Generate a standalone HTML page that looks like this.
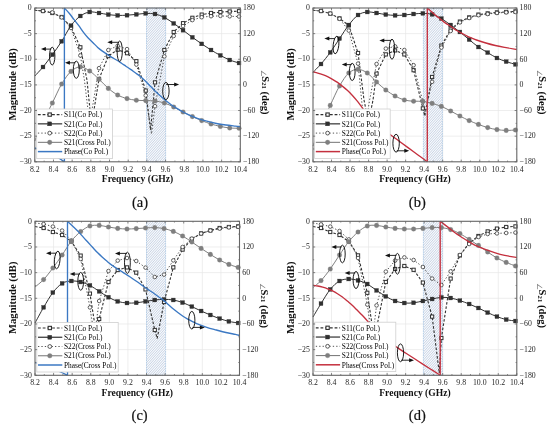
<!DOCTYPE html>
<html lang="en"><head><meta charset="utf-8"><title>S-parameter plots</title><style>
html,body{margin:0;padding:0;background:#fff;}
body{width:550px;height:425px;overflow:hidden;}
svg{display:block;filter:blur(0.4px);}
text{font-family:"Liberation Serif",serif;fill:#222;}
.tk{font-size:7.8px;fill:#262626;}
.lg{font-size:8.2px;fill:#000;}
.ax{font-size:10.65px;font-weight:bold;fill:#111;}
.ang{font-family:"DejaVu Sans",sans-serif;font-size:8px;fill:#808080;}
.ax .sub{font-size:6.8px;}
.cap{font-size:14.5px;fill:#111;stroke:#111;stroke-width:0.2px;}
</style></head><body>
<svg width="550" height="425" viewBox="0 0 550 425">
<rect width="550" height="425" fill="#fff"/>
<g id="plot-a">
<rect x="34.8" y="8" width="205.5" height="153.8" fill="#fff"/>
<path d="M53.48 8V161.8M72.16 8V161.8M90.85 8V161.8M109.53 8V161.8M128.21 8V161.8M146.89 8V161.8M165.57 8V161.8M184.25 8V161.8M202.94 8V161.8M221.62 8V161.8M34.8 33.63H240.3M34.8 59.27H240.3M34.8 84.9H240.3M34.8 110.53H240.3M34.8 136.17H240.3" stroke="#e6e6e6" stroke-width="0.7" fill="none"/>
<clipPath id="bca"><rect x="146.5" y="8" width="19.1" height="153.8"/></clipPath>
<rect x="146.5" y="8" width="19.1" height="153.8" fill="#f8fafd"/>
<path d="M8.08 161.8L146.5 8M10.48 161.8L148.9 8M12.88 161.8L151.3 8M15.28 161.8L153.7 8M17.68 161.8L156.1 8M20.08 161.8L158.5 8M22.48 161.8L160.9 8M24.88 161.8L163.3 8M27.28 161.8L165.7 8M29.68 161.8L168.1 8M32.08 161.8L170.5 8M34.48 161.8L172.9 8M36.88 161.8L175.3 8M39.28 161.8L177.7 8M41.68 161.8L180.1 8M44.08 161.8L182.5 8M46.48 161.8L184.9 8M48.88 161.8L187.3 8M51.28 161.8L189.7 8M53.68 161.8L192.1 8M56.08 161.8L194.5 8M58.48 161.8L196.9 8M60.88 161.8L199.3 8M63.28 161.8L201.7 8M65.68 161.8L204.1 8M68.08 161.8L206.5 8M70.48 161.8L208.9 8M72.88 161.8L211.3 8M75.28 161.8L213.7 8M77.68 161.8L216.1 8M80.08 161.8L218.5 8M82.48 161.8L220.9 8M84.88 161.8L223.3 8M87.28 161.8L225.7 8M89.68 161.8L228.1 8M92.08 161.8L230.5 8M94.48 161.8L232.9 8M96.88 161.8L235.3 8M99.28 161.8L237.7 8M101.68 161.8L240.1 8M104.08 161.8L242.5 8M106.48 161.8L244.9 8M108.88 161.8L247.3 8M111.28 161.8L249.7 8M113.68 161.8L252.1 8M116.08 161.8L254.5 8M118.48 161.8L256.9 8M120.88 161.8L259.3 8M123.28 161.8L261.7 8M125.68 161.8L264.1 8M128.08 161.8L266.5 8M130.48 161.8L268.9 8M132.88 161.8L271.3 8M135.28 161.8L273.7 8M137.68 161.8L276.1 8M140.08 161.8L278.5 8M142.48 161.8L280.9 8M144.88 161.8L283.3 8M147.28 161.8L285.7 8M149.68 161.8L288.1 8M152.08 161.8L290.5 8M154.48 161.8L292.9 8M156.88 161.8L295.3 8M159.28 161.8L297.7 8M161.68 161.8L300.1 8M164.08 161.8L302.5 8" stroke="#a9bbd3" stroke-width="0.6" fill="none" clip-path="url(#bca)"/>
<rect x="146.5" y="8" width="19.1" height="153.8" fill="none" stroke="#a9c6e4" stroke-width="0.8" stroke-dasharray="1.6 0.8"/>
<clipPath id="cpa"><rect x="32.8" y="6" width="209.5" height="157.8"/></clipPath>
<g clip-path="url(#cpa)">
<path d="M34.8 10.3 L43 11 L52.34 13 L61.67 17 L71 27 L80.34 47.3 L87 80 L90 110 L92 138 L94 110 L99.01 79 L108.34 56.1 L117.68 49.7 L127.02 53.2 L136.35 61.2 L145.69 90.6 L150.6 130 L155.02 82.4 L164.36 50 L173.69 32 L183.03 23.2 L192.36 17.8 L201.7 14.6 L211.03 13 L220.37 12.1 L229.7 11.5 L239.04 11.2" fill="none" stroke="#303030" stroke-width="1.1" stroke-dasharray="2.6 1.7"/>
<rect x="41.4" y="9.4" width="3.2" height="3.2" fill="#fff" stroke="#303030" stroke-width="1"/>
<rect x="50.73" y="11.4" width="3.2" height="3.2" fill="#fff" stroke="#303030" stroke-width="1"/>
<rect x="60.07" y="15.4" width="3.2" height="3.2" fill="#fff" stroke="#303030" stroke-width="1"/>
<rect x="69.41" y="25.4" width="3.2" height="3.2" fill="#fff" stroke="#303030" stroke-width="1"/>
<rect x="78.74" y="45.7" width="3.2" height="3.2" fill="#fff" stroke="#303030" stroke-width="1"/>
<rect x="97.41" y="77.4" width="3.2" height="3.2" fill="#fff" stroke="#303030" stroke-width="1"/>
<rect x="106.75" y="54.5" width="3.2" height="3.2" fill="#fff" stroke="#303030" stroke-width="1"/>
<rect x="116.08" y="48.1" width="3.2" height="3.2" fill="#fff" stroke="#303030" stroke-width="1"/>
<rect x="125.42" y="51.6" width="3.2" height="3.2" fill="#fff" stroke="#303030" stroke-width="1"/>
<rect x="134.75" y="59.6" width="3.2" height="3.2" fill="#fff" stroke="#303030" stroke-width="1"/>
<rect x="144.09" y="89" width="3.2" height="3.2" fill="#fff" stroke="#303030" stroke-width="1"/>
<rect x="153.42" y="80.8" width="3.2" height="3.2" fill="#fff" stroke="#303030" stroke-width="1"/>
<rect x="162.76" y="48.4" width="3.2" height="3.2" fill="#fff" stroke="#303030" stroke-width="1"/>
<rect x="172.09" y="30.4" width="3.2" height="3.2" fill="#fff" stroke="#303030" stroke-width="1"/>
<rect x="181.43" y="21.6" width="3.2" height="3.2" fill="#fff" stroke="#303030" stroke-width="1"/>
<rect x="190.76" y="16.2" width="3.2" height="3.2" fill="#fff" stroke="#303030" stroke-width="1"/>
<rect x="200.1" y="13" width="3.2" height="3.2" fill="#fff" stroke="#303030" stroke-width="1"/>
<rect x="209.43" y="11.4" width="3.2" height="3.2" fill="#fff" stroke="#303030" stroke-width="1"/>
<rect x="218.77" y="10.5" width="3.2" height="3.2" fill="#fff" stroke="#303030" stroke-width="1"/>
<rect x="228.1" y="9.9" width="3.2" height="3.2" fill="#fff" stroke="#303030" stroke-width="1"/>
<rect x="237.44" y="9.6" width="3.2" height="3.2" fill="#fff" stroke="#303030" stroke-width="1"/>
<path d="M34.8 10.3 L43 11 L52.34 12.4 L61.67 17.4 L71 28 L80.34 55.5 L84.4 80 L88 110 L90 138 L92 110 L97 80 L99.01 68.2 L108.34 50 L117.68 45.8 L127.02 49.1 L136.35 64.6 L145.69 95.5 L151.5 134 L155.02 106.2 L164.36 56.4 L173.69 36 L183.03 26.1 L192.36 20.1 L201.7 17.2 L211.03 16.2 L220.37 15.9 L229.7 16.3 L239.04 16.5" fill="none" stroke="#4a4a4a" stroke-width="1" stroke-dasharray="1.3 2.0"/>
<circle cx="43" cy="11" r="1.8" fill="#fff" stroke="#444" stroke-width="0.85"/>
<circle cx="52.34" cy="12.4" r="1.8" fill="#fff" stroke="#444" stroke-width="0.85"/>
<circle cx="61.67" cy="17.4" r="1.8" fill="#fff" stroke="#444" stroke-width="0.85"/>
<circle cx="71" cy="28" r="1.8" fill="#fff" stroke="#444" stroke-width="0.85"/>
<circle cx="80.34" cy="55.5" r="1.8" fill="#fff" stroke="#444" stroke-width="0.85"/>
<circle cx="99.01" cy="68.2" r="1.8" fill="#fff" stroke="#444" stroke-width="0.85"/>
<circle cx="108.34" cy="50" r="1.8" fill="#fff" stroke="#444" stroke-width="0.85"/>
<circle cx="117.68" cy="45.8" r="1.8" fill="#fff" stroke="#444" stroke-width="0.85"/>
<circle cx="127.02" cy="49.1" r="1.8" fill="#fff" stroke="#444" stroke-width="0.85"/>
<circle cx="136.35" cy="64.6" r="1.8" fill="#fff" stroke="#444" stroke-width="0.85"/>
<circle cx="145.69" cy="95.5" r="1.8" fill="#fff" stroke="#444" stroke-width="0.85"/>
<circle cx="155.02" cy="106.2" r="1.8" fill="#fff" stroke="#444" stroke-width="0.85"/>
<circle cx="164.36" cy="56.4" r="1.8" fill="#fff" stroke="#444" stroke-width="0.85"/>
<circle cx="173.69" cy="36" r="1.8" fill="#fff" stroke="#444" stroke-width="0.85"/>
<circle cx="183.03" cy="26.1" r="1.8" fill="#fff" stroke="#444" stroke-width="0.85"/>
<circle cx="192.36" cy="20.1" r="1.8" fill="#fff" stroke="#444" stroke-width="0.85"/>
<circle cx="201.7" cy="17.2" r="1.8" fill="#fff" stroke="#444" stroke-width="0.85"/>
<circle cx="211.03" cy="16.2" r="1.8" fill="#fff" stroke="#444" stroke-width="0.85"/>
<circle cx="220.37" cy="15.9" r="1.8" fill="#fff" stroke="#444" stroke-width="0.85"/>
<circle cx="229.7" cy="16.3" r="1.8" fill="#fff" stroke="#444" stroke-width="0.85"/>
<circle cx="239.04" cy="16.5" r="1.8" fill="#fff" stroke="#444" stroke-width="0.85"/>
<path d="M34.8 141 C36.17 137.83 40.08 128.33 43 122 C45.92 115.67 49.22 109.33 52.34 103 C55.45 96.67 58.56 89.27 61.67 84 C64.78 78.73 67.89 74.25 71 71.4 C74.12 68.55 77.23 66.97 80.34 66.9 C83.45 66.83 86.56 68.95 89.68 71 C92.79 73.05 95.9 76.3 99.01 79.2 C102.12 82.1 105.23 85.77 108.34 88.4 C111.46 91.03 114.57 93.3 117.68 95 C120.79 96.7 123.9 97.73 127.02 98.6 C130.13 99.47 133.24 99.87 136.35 100.2 C139.46 100.53 142.57 100.47 145.69 100.6 C148.8 100.73 151.91 100.6 155.02 101 C158.13 101.4 161.24 102 164.36 103 C167.47 104 170.58 105.5 173.69 107 C176.8 108.5 179.91 110.4 183.03 112 C186.14 113.6 189.25 115.17 192.36 116.6 C195.47 118.03 198.58 119.37 201.7 120.6 C204.81 121.83 207.92 123.03 211.03 124 C214.14 124.97 217.25 125.73 220.37 126.4 C223.48 127.07 226.59 127.7 229.7 128 C232.81 128.3 237.48 128.17 239.04 128.2" fill="none" stroke="#7f7f7f" stroke-width="1"/>
<circle cx="43" cy="122" r="2.3" fill="#7f7f7f" stroke="#7f7f7f" stroke-width="0.3"/>
<circle cx="52.34" cy="103" r="2.3" fill="#7f7f7f" stroke="#7f7f7f" stroke-width="0.3"/>
<circle cx="61.67" cy="84" r="2.3" fill="#7f7f7f" stroke="#7f7f7f" stroke-width="0.3"/>
<circle cx="71" cy="71.4" r="2.3" fill="#7f7f7f" stroke="#7f7f7f" stroke-width="0.3"/>
<circle cx="80.34" cy="66.9" r="2.3" fill="#7f7f7f" stroke="#7f7f7f" stroke-width="0.3"/>
<circle cx="89.68" cy="71" r="2.3" fill="#7f7f7f" stroke="#7f7f7f" stroke-width="0.3"/>
<circle cx="99.01" cy="79.2" r="2.3" fill="#7f7f7f" stroke="#7f7f7f" stroke-width="0.3"/>
<circle cx="108.34" cy="88.4" r="2.3" fill="#7f7f7f" stroke="#7f7f7f" stroke-width="0.3"/>
<circle cx="117.68" cy="95" r="2.3" fill="#7f7f7f" stroke="#7f7f7f" stroke-width="0.3"/>
<circle cx="127.02" cy="98.6" r="2.3" fill="#7f7f7f" stroke="#7f7f7f" stroke-width="0.3"/>
<circle cx="136.35" cy="100.2" r="2.3" fill="#7f7f7f" stroke="#7f7f7f" stroke-width="0.3"/>
<circle cx="145.69" cy="100.6" r="2.3" fill="#7f7f7f" stroke="#7f7f7f" stroke-width="0.3"/>
<circle cx="155.02" cy="101" r="2.3" fill="#7f7f7f" stroke="#7f7f7f" stroke-width="0.3"/>
<circle cx="164.36" cy="103" r="2.3" fill="#7f7f7f" stroke="#7f7f7f" stroke-width="0.3"/>
<circle cx="173.69" cy="107" r="2.3" fill="#7f7f7f" stroke="#7f7f7f" stroke-width="0.3"/>
<circle cx="183.03" cy="112" r="2.3" fill="#7f7f7f" stroke="#7f7f7f" stroke-width="0.3"/>
<circle cx="192.36" cy="116.6" r="2.3" fill="#7f7f7f" stroke="#7f7f7f" stroke-width="0.3"/>
<circle cx="201.7" cy="120.6" r="2.3" fill="#7f7f7f" stroke="#7f7f7f" stroke-width="0.3"/>
<circle cx="211.03" cy="124" r="2.3" fill="#7f7f7f" stroke="#7f7f7f" stroke-width="0.3"/>
<circle cx="220.37" cy="126.4" r="2.3" fill="#7f7f7f" stroke="#7f7f7f" stroke-width="0.3"/>
<circle cx="229.7" cy="128" r="2.3" fill="#7f7f7f" stroke="#7f7f7f" stroke-width="0.3"/>
<circle cx="239.04" cy="128.2" r="2.3" fill="#7f7f7f" stroke="#7f7f7f" stroke-width="0.3"/>
<path d="M34.8 76 C36.17 74.5 40.08 70.55 43 67 C45.92 63.45 49.22 58.98 52.34 54.7 C55.45 50.42 58.56 46.15 61.67 41.3 C64.78 36.45 67.89 29.82 71 25.6 C74.12 21.38 77.23 18.27 80.34 16 C83.45 13.73 86.56 12.5 89.68 12 C92.79 11.5 95.9 12.57 99.01 13 C102.12 13.43 105.23 14.2 108.34 14.6 C111.46 15 114.57 15.3 117.68 15.4 C120.79 15.5 123.9 15.37 127.02 15.2 C130.13 15.03 133.24 14.7 136.35 14.4 C139.46 14.1 142.57 13.47 145.69 13.4 C148.8 13.33 151.91 13.33 155.02 14 C158.13 14.67 161.24 15.83 164.36 17.4 C167.47 18.97 170.58 21.27 173.69 23.4 C176.8 25.53 179.91 27.88 183.03 30.2 C186.14 32.52 189.25 35.02 192.36 37.3 C195.47 39.58 198.58 41.78 201.7 43.9 C204.81 46.02 207.92 48.08 211.03 50 C214.14 51.92 217.25 53.73 220.37 55.4 C223.48 57.07 226.59 58.73 229.7 60 C232.81 61.27 237.48 62.5 239.04 63" fill="none" stroke="#303030" stroke-width="1"/>
<rect x="41.05" y="65.05" width="3.9" height="3.9" fill="#303030" stroke="#303030" stroke-width="0.3"/>
<rect x="50.38" y="52.75" width="3.9" height="3.9" fill="#303030" stroke="#303030" stroke-width="0.3"/>
<rect x="59.72" y="39.35" width="3.9" height="3.9" fill="#303030" stroke="#303030" stroke-width="0.3"/>
<rect x="69.05" y="23.65" width="3.9" height="3.9" fill="#303030" stroke="#303030" stroke-width="0.3"/>
<rect x="78.39" y="14.05" width="3.9" height="3.9" fill="#303030" stroke="#303030" stroke-width="0.3"/>
<rect x="87.73" y="10.05" width="3.9" height="3.9" fill="#303030" stroke="#303030" stroke-width="0.3"/>
<rect x="97.06" y="11.05" width="3.9" height="3.9" fill="#303030" stroke="#303030" stroke-width="0.3"/>
<rect x="106.39" y="12.65" width="3.9" height="3.9" fill="#303030" stroke="#303030" stroke-width="0.3"/>
<rect x="115.73" y="13.45" width="3.9" height="3.9" fill="#303030" stroke="#303030" stroke-width="0.3"/>
<rect x="125.07" y="13.25" width="3.9" height="3.9" fill="#303030" stroke="#303030" stroke-width="0.3"/>
<rect x="134.4" y="12.45" width="3.9" height="3.9" fill="#303030" stroke="#303030" stroke-width="0.3"/>
<rect x="143.74" y="11.45" width="3.9" height="3.9" fill="#303030" stroke="#303030" stroke-width="0.3"/>
<rect x="153.07" y="12.05" width="3.9" height="3.9" fill="#303030" stroke="#303030" stroke-width="0.3"/>
<rect x="162.41" y="15.45" width="3.9" height="3.9" fill="#303030" stroke="#303030" stroke-width="0.3"/>
<rect x="171.74" y="21.45" width="3.9" height="3.9" fill="#303030" stroke="#303030" stroke-width="0.3"/>
<rect x="181.08" y="28.25" width="3.9" height="3.9" fill="#303030" stroke="#303030" stroke-width="0.3"/>
<rect x="190.41" y="35.35" width="3.9" height="3.9" fill="#303030" stroke="#303030" stroke-width="0.3"/>
<rect x="199.75" y="41.95" width="3.9" height="3.9" fill="#303030" stroke="#303030" stroke-width="0.3"/>
<rect x="209.08" y="48.05" width="3.9" height="3.9" fill="#303030" stroke="#303030" stroke-width="0.3"/>
<rect x="218.42" y="53.45" width="3.9" height="3.9" fill="#303030" stroke="#303030" stroke-width="0.3"/>
<rect x="227.75" y="58.05" width="3.9" height="3.9" fill="#303030" stroke="#303030" stroke-width="0.3"/>
<rect x="237.09" y="61.05" width="3.9" height="3.9" fill="#303030" stroke="#303030" stroke-width="0.3"/>
<path d="M34.8 148 C36.5 148.58 41.63 150.17 45 151.5 C48.37 152.83 51.77 154.28 55 156 C58.23 157.72 62.83 160.83 64.4 161.8" fill="none" stroke="#3b78c3" stroke-width="1.35" stroke-linejoin="round"/>
<path d="M64.4 161.8 L64.4 8" fill="none" stroke="#3b78c3" stroke-width="1.35" stroke-linejoin="round"/>
<path d="M64.4 8 C65.23 8.92 67.78 11.55 69.4 13.5 C71.02 15.45 72.53 17.67 74.1 19.7 C75.67 21.73 77.23 23.6 78.8 25.7 C80.37 27.8 81.93 30.25 83.5 32.3 C85.07 34.35 86.62 36.27 88.2 38 C89.78 39.73 91.42 41.13 93 42.7 C94.58 44.27 96.13 46 97.7 47.4 C99.27 48.8 100.83 49.95 102.4 51.1 C103.97 52.25 105.53 53.25 107.1 54.3 C108.67 55.35 110.23 56.45 111.8 57.4 C113.37 58.35 114.93 59.07 116.5 60 C118.07 60.93 119.63 61.97 121.2 63 C122.77 64.03 124.33 65.13 125.9 66.2 C127.47 67.27 129.03 68.3 130.6 69.4 C132.17 70.5 133.73 71.67 135.3 72.8 C136.87 73.93 138.42 74.92 140 76.2 C141.58 77.48 143.22 79 144.8 80.5 C146.38 82 147.92 83.58 149.5 85.2 C151.08 86.82 152.7 88.6 154.3 90.2 C155.9 91.8 157.5 93.33 159.1 94.8 C160.7 96.27 162.32 97.67 163.9 99 C165.48 100.33 167.02 101.58 168.6 102.8 C170.18 104.02 171.8 105.23 173.4 106.3 C175 107.37 176.6 108.25 178.2 109.2 C179.8 110.15 181.42 111.15 183 112 C184.58 112.85 186.12 113.57 187.7 114.3 C189.28 115.03 190.9 115.73 192.5 116.4 C194.1 117.07 194.92 117.5 197.3 118.3 C199.68 119.1 203.62 120.33 206.8 121.2 C209.98 122.07 213.22 122.87 216.4 123.5 C219.58 124.13 222.72 124.57 225.9 125 C229.08 125.43 233.1 125.83 235.5 126.1 C237.9 126.37 239.5 126.52 240.3 126.6" fill="none" stroke="#3b78c3" stroke-width="1.35" stroke-linejoin="round"/>
</g>
<ellipse cx="52.2" cy="56.1" rx="2.7" ry="8.9" fill="none" stroke="#111" stroke-width="0.95" transform="rotate(0 52.2 56.1)"/><line x1="51.2" y1="49.1" x2="43.5" y2="49.1" stroke="#111" stroke-width="0.9"/><path d="M41 49.1 L45.9 47.1 L45.9 51.1 Z" fill="#111"/>
<ellipse cx="76.3" cy="69.7" rx="3" ry="8.6" fill="none" stroke="#111" stroke-width="0.95" transform="rotate(0 76.3 69.7)"/><line x1="75.4" y1="62.8" x2="67.5" y2="62.8" stroke="#111" stroke-width="0.9"/><path d="M65 62.8 L69.9 60.8 L69.9 64.8 Z" fill="#111"/>
<ellipse cx="119.7" cy="51.2" rx="2.6" ry="10.2" fill="none" stroke="#111" stroke-width="0.95" transform="rotate(0 119.7 51.2)"/><line x1="119" y1="42.3" x2="109.8" y2="42.3" stroke="#111" stroke-width="0.9"/><path d="M107.3 42.3 L112.2 40.3 L112.2 44.3 Z" fill="#111"/>
<ellipse cx="165.9" cy="91" rx="3.2" ry="8.6" fill="none" stroke="#111" stroke-width="0.95" transform="rotate(0 165.9 91)"/><line x1="166.2" y1="84.5" x2="176.6" y2="84.5" stroke="#111" stroke-width="0.9"/><path d="M179.1 84.5 L174.2 82.5 L174.2 86.5 Z" fill="#111"/>
<rect x="36.7" y="109" width="75.7" height="49.6" fill="#fff" stroke="#cfcfcf" stroke-width="0.8"/>
<line x1="37.9" y1="114.6" x2="62.2" y2="114.6" stroke="#303030" stroke-width="1.2" stroke-dasharray="2.8 1.9"/>
<rect x="48.05" y="112.95" width="3.3" height="3.3" fill="#fff" stroke="#303030" stroke-width="1.1"/>
<line x1="37.9" y1="123.85" x2="62.2" y2="123.85" stroke="#303030" stroke-width="1.2"/>
<rect x="47.75" y="121.9" width="3.9" height="3.9" fill="#303030" stroke="#303030" stroke-width="0.4"/>
<line x1="37.9" y1="133.1" x2="62.2" y2="133.1" stroke="#555" stroke-width="1" stroke-dasharray="1.3 2.1"/>
<circle cx="49.7" cy="133.1" r="1.9" fill="#fff" stroke="#444" stroke-width="0.9"/>
<line x1="37.9" y1="142.35" x2="62.2" y2="142.35" stroke="#7f7f7f" stroke-width="1.1"/>
<circle cx="49.7" cy="142.35" r="2.3" fill="#7f7f7f" stroke="#7f7f7f" stroke-width="0.3"/>
<line x1="37.9" y1="151.6" x2="62.2" y2="151.6" stroke="#3b78c3" stroke-width="1.5"/>
<text transform="translate(63.9 117.3) scale(0.9 1)" text-anchor="start" class="lg">S11(Co Pol.)</text>
<text transform="translate(63.9 126.55) scale(0.9 1)" text-anchor="start" class="lg">S21(Co Pol.)</text>
<text transform="translate(63.9 135.8) scale(0.9 1)" text-anchor="start" class="lg">S22(Co Pol.)</text>
<text transform="translate(63.9 145.05) scale(0.9 1)" text-anchor="start" class="lg">S21(Cross Pol.)</text>
<text transform="translate(63.9 154.3) scale(0.9 1)" text-anchor="start" class="lg">Phase(Co Pol.)</text>
<path d="M34.8 161.8v-2.2M34.8 8v2.2M44.14 161.8v-1.2M44.14 8v1.2M53.48 161.8v-2.2M53.48 8v2.2M62.82 161.8v-1.2M62.82 8v1.2M72.16 161.8v-2.2M72.16 8v2.2M81.5 161.8v-1.2M81.5 8v1.2M90.85 161.8v-2.2M90.85 8v2.2M100.19 161.8v-1.2M100.19 8v1.2M109.53 161.8v-2.2M109.53 8v2.2M118.87 161.8v-1.2M118.87 8v1.2M128.21 161.8v-2.2M128.21 8v2.2M137.55 161.8v-1.2M137.55 8v1.2M146.89 161.8v-2.2M146.89 8v2.2M156.23 161.8v-1.2M156.23 8v1.2M165.57 161.8v-2.2M165.57 8v2.2M174.91 161.8v-1.2M174.91 8v1.2M184.25 161.8v-2.2M184.25 8v2.2M193.6 161.8v-1.2M193.6 8v1.2M202.94 161.8v-2.2M202.94 8v2.2M212.28 161.8v-1.2M212.28 8v1.2M221.62 161.8v-2.2M221.62 8v2.2M230.96 161.8v-1.2M230.96 8v1.2M240.3 161.8v-2.2M240.3 8v2.2M34.8 8h2.2M240.3 8h-2.2M34.8 20.82h1.2M240.3 20.82h-1.2M34.8 33.63h2.2M240.3 33.63h-2.2M34.8 46.45h1.2M240.3 46.45h-1.2M34.8 59.27h2.2M240.3 59.27h-2.2M34.8 72.08h1.2M240.3 72.08h-1.2M34.8 84.9h2.2M240.3 84.9h-2.2M34.8 97.72h1.2M240.3 97.72h-1.2M34.8 110.53h2.2M240.3 110.53h-2.2M34.8 123.35h1.2M240.3 123.35h-1.2M34.8 136.17h2.2M240.3 136.17h-2.2M34.8 148.98h1.2M240.3 148.98h-1.2M34.8 161.8h2.2M240.3 161.8h-2.2" stroke="#666666" stroke-width="0.8" fill="none"/>
<rect x="34.8" y="8" width="205.5" height="153.8" fill="none" stroke="#666666" stroke-width="1.1"/>
<text x="34.8" y="171.9" text-anchor="middle" class="tk">8.2</text>
<text x="53.48" y="171.9" text-anchor="middle" class="tk">8.4</text>
<text x="72.16" y="171.9" text-anchor="middle" class="tk">8.6</text>
<text x="90.85" y="171.9" text-anchor="middle" class="tk">8.8</text>
<text x="109.53" y="171.9" text-anchor="middle" class="tk">9.0</text>
<text x="128.21" y="171.9" text-anchor="middle" class="tk">9.2</text>
<text x="146.89" y="171.9" text-anchor="middle" class="tk">9.4</text>
<text x="165.57" y="171.9" text-anchor="middle" class="tk">9.6</text>
<text x="184.25" y="171.9" text-anchor="middle" class="tk">9.8</text>
<text x="202.94" y="171.9" text-anchor="middle" class="tk">10.0</text>
<text x="221.62" y="171.9" text-anchor="middle" class="tk">10.2</text>
<text x="240.3" y="171.9" text-anchor="middle" class="tk">10.4</text>
<text x="31.7" y="10.2" text-anchor="end" class="tk">0</text>
<text x="31.7" y="35.83" text-anchor="end" class="tk">−5</text>
<text x="31.7" y="61.47" text-anchor="end" class="tk">−10</text>
<text x="31.7" y="87.1" text-anchor="end" class="tk">−15</text>
<text x="31.7" y="112.73" text-anchor="end" class="tk">−20</text>
<text x="31.7" y="138.37" text-anchor="end" class="tk">−25</text>
<text x="31.7" y="164" text-anchor="end" class="tk">−30</text>
<text x="243.1" y="10.3" text-anchor="start" class="tk">180</text>
<text x="243.1" y="35.93" text-anchor="start" class="tk">120</text>
<text x="243.1" y="61.57" text-anchor="start" class="tk">60</text>
<text x="243.1" y="87.2" text-anchor="start" class="tk">0</text>
<text x="243.1" y="112.83" text-anchor="start" class="tk">−60</text>
<text x="243.1" y="138.47" text-anchor="start" class="tk">−120</text>
<text x="243.1" y="164.1" text-anchor="start" class="tk">−180</text>
<text transform="translate(137.55 182.1) scale(0.9 1)" text-anchor="middle" class="ax">Frequency (GHz)</text>
<text transform="translate(16 84.4) rotate(-90) scale(1 0.9)" text-anchor="middle" class="ax">Magnitude (dB)</text>
<text transform="translate(260.6 69.7) rotate(90) scale(1 0.9)" class="ang">∠</text>
<text transform="translate(262 76.2) rotate(90) scale(1 0.9)" class="ax">S<tspan class="sub" dy="0.2">21</tspan><tspan dy="-0.2"> (deg)</tspan></text>
<text x="139.95" y="206.6" text-anchor="middle" class="cap">(a)</text>
</g>
<g id="plot-b">
<rect x="313" y="8" width="203.8" height="153.8" fill="#fff"/>
<path d="M331.53 8V161.8M350.05 8V161.8M368.58 8V161.8M387.11 8V161.8M405.64 8V161.8M424.16 8V161.8M442.69 8V161.8M461.22 8V161.8M479.75 8V161.8M498.27 8V161.8M313 33.63H516.8M313 59.27H516.8M313 84.9H516.8M313 110.53H516.8M313 136.17H516.8" stroke="#e6e6e6" stroke-width="0.7" fill="none"/>
<clipPath id="bcb"><rect x="423.4" y="8" width="19" height="153.8"/></clipPath>
<rect x="423.4" y="8" width="19" height="153.8" fill="#f8fafd"/>
<path d="M284.98 161.8L423.4 8M287.38 161.8L425.8 8M289.78 161.8L428.2 8M292.18 161.8L430.6 8M294.58 161.8L433 8M296.98 161.8L435.4 8M299.38 161.8L437.8 8M301.78 161.8L440.2 8M304.18 161.8L442.6 8M306.58 161.8L445 8M308.98 161.8L447.4 8M311.38 161.8L449.8 8M313.78 161.8L452.2 8M316.18 161.8L454.6 8M318.58 161.8L457 8M320.98 161.8L459.4 8M323.38 161.8L461.8 8M325.78 161.8L464.2 8M328.18 161.8L466.6 8M330.58 161.8L469 8M332.98 161.8L471.4 8M335.38 161.8L473.8 8M337.78 161.8L476.2 8M340.18 161.8L478.6 8M342.58 161.8L481 8M344.98 161.8L483.4 8M347.38 161.8L485.8 8M349.78 161.8L488.2 8M352.18 161.8L490.6 8M354.58 161.8L493 8M356.98 161.8L495.4 8M359.38 161.8L497.8 8M361.78 161.8L500.2 8M364.18 161.8L502.6 8M366.58 161.8L505 8M368.98 161.8L507.4 8M371.38 161.8L509.8 8M373.78 161.8L512.2 8M376.18 161.8L514.6 8M378.58 161.8L517 8M380.98 161.8L519.4 8M383.38 161.8L521.8 8M385.78 161.8L524.2 8M388.18 161.8L526.6 8M390.58 161.8L529 8M392.98 161.8L531.4 8M395.38 161.8L533.8 8M397.78 161.8L536.2 8M400.18 161.8L538.6 8M402.58 161.8L541 8M404.98 161.8L543.4 8M407.38 161.8L545.8 8M409.78 161.8L548.2 8M412.18 161.8L550.6 8M414.58 161.8L553 8M416.98 161.8L555.4 8M419.38 161.8L557.8 8M421.78 161.8L560.2 8M424.18 161.8L562.6 8M426.58 161.8L565 8M428.98 161.8L567.4 8M431.38 161.8L569.8 8M433.78 161.8L572.2 8M436.18 161.8L574.6 8M438.58 161.8L577 8M440.98 161.8L579.4 8" stroke="#a9bbd3" stroke-width="0.6" fill="none" clip-path="url(#bcb)"/>
<rect x="423.4" y="8" width="19" height="153.8" fill="none" stroke="#a9c6e4" stroke-width="0.8" stroke-dasharray="1.6 0.8"/>
<clipPath id="cpb"><rect x="311" y="6" width="207.8" height="157.8"/></clipPath>
<g clip-path="url(#cpb)">
<path d="M313 10.3 L321 11 L330.26 13.6 L339.52 18.4 L348.78 25.4 L358.04 53 L364 100 L366 110 L368.3 138 L371 110 L373 100 L376.56 73.6 L385.82 54.4 L395.08 50.4 L404.34 54.4 L413.6 70.2 L422.86 108.4 L424.8 116 L432.12 77 L441.38 45.6 L450.64 29.4 L459.9 21.6 L469.16 17.4 L478.42 14.6 L487.68 13.4 L496.94 12.4 L506.2 12 L515.46 11.4" fill="none" stroke="#303030" stroke-width="1.1" stroke-dasharray="2.6 1.7"/>
<rect x="319.4" y="9.4" width="3.2" height="3.2" fill="#fff" stroke="#303030" stroke-width="1"/>
<rect x="328.66" y="12" width="3.2" height="3.2" fill="#fff" stroke="#303030" stroke-width="1"/>
<rect x="337.92" y="16.8" width="3.2" height="3.2" fill="#fff" stroke="#303030" stroke-width="1"/>
<rect x="347.18" y="23.8" width="3.2" height="3.2" fill="#fff" stroke="#303030" stroke-width="1"/>
<rect x="356.44" y="51.4" width="3.2" height="3.2" fill="#fff" stroke="#303030" stroke-width="1"/>
<rect x="374.96" y="72" width="3.2" height="3.2" fill="#fff" stroke="#303030" stroke-width="1"/>
<rect x="384.22" y="52.8" width="3.2" height="3.2" fill="#fff" stroke="#303030" stroke-width="1"/>
<rect x="393.48" y="48.8" width="3.2" height="3.2" fill="#fff" stroke="#303030" stroke-width="1"/>
<rect x="402.74" y="52.8" width="3.2" height="3.2" fill="#fff" stroke="#303030" stroke-width="1"/>
<rect x="412" y="68.6" width="3.2" height="3.2" fill="#fff" stroke="#303030" stroke-width="1"/>
<rect x="421.26" y="106.8" width="3.2" height="3.2" fill="#fff" stroke="#303030" stroke-width="1"/>
<rect x="430.52" y="75.4" width="3.2" height="3.2" fill="#fff" stroke="#303030" stroke-width="1"/>
<rect x="439.78" y="44" width="3.2" height="3.2" fill="#fff" stroke="#303030" stroke-width="1"/>
<rect x="449.04" y="27.8" width="3.2" height="3.2" fill="#fff" stroke="#303030" stroke-width="1"/>
<rect x="458.3" y="20" width="3.2" height="3.2" fill="#fff" stroke="#303030" stroke-width="1"/>
<rect x="467.56" y="15.8" width="3.2" height="3.2" fill="#fff" stroke="#303030" stroke-width="1"/>
<rect x="476.82" y="13" width="3.2" height="3.2" fill="#fff" stroke="#303030" stroke-width="1"/>
<rect x="486.08" y="11.8" width="3.2" height="3.2" fill="#fff" stroke="#303030" stroke-width="1"/>
<rect x="495.34" y="10.8" width="3.2" height="3.2" fill="#fff" stroke="#303030" stroke-width="1"/>
<rect x="504.6" y="10.4" width="3.2" height="3.2" fill="#fff" stroke="#303030" stroke-width="1"/>
<rect x="513.86" y="9.8" width="3.2" height="3.2" fill="#fff" stroke="#303030" stroke-width="1"/>
<path d="M313 10.3 L321 11 L330.26 13.6 L339.52 18.8 L348.78 30.6 L358.04 63.6 L361.6 100 L362.6 110 L365.3 140 L368 110 L369.6 100 L376.56 64 L385.82 48.6 L395.08 46.4 L404.34 50 L413.6 65.2 L422.86 101.5 L425 112 L432.12 81.8 L441.38 47.6 L450.64 31 L459.9 22.4 L469.16 18 L478.42 15.2 L487.68 14 L496.94 13 L506.2 12.4 L515.46 12" fill="none" stroke="#4a4a4a" stroke-width="1" stroke-dasharray="1.3 2.0"/>
<circle cx="321" cy="11" r="1.8" fill="#fff" stroke="#444" stroke-width="0.85"/>
<circle cx="330.26" cy="13.6" r="1.8" fill="#fff" stroke="#444" stroke-width="0.85"/>
<circle cx="339.52" cy="18.8" r="1.8" fill="#fff" stroke="#444" stroke-width="0.85"/>
<circle cx="348.78" cy="30.6" r="1.8" fill="#fff" stroke="#444" stroke-width="0.85"/>
<circle cx="358.04" cy="63.6" r="1.8" fill="#fff" stroke="#444" stroke-width="0.85"/>
<circle cx="376.56" cy="64" r="1.8" fill="#fff" stroke="#444" stroke-width="0.85"/>
<circle cx="385.82" cy="48.6" r="1.8" fill="#fff" stroke="#444" stroke-width="0.85"/>
<circle cx="395.08" cy="46.4" r="1.8" fill="#fff" stroke="#444" stroke-width="0.85"/>
<circle cx="404.34" cy="50" r="1.8" fill="#fff" stroke="#444" stroke-width="0.85"/>
<circle cx="413.6" cy="65.2" r="1.8" fill="#fff" stroke="#444" stroke-width="0.85"/>
<circle cx="422.86" cy="101.5" r="1.8" fill="#fff" stroke="#444" stroke-width="0.85"/>
<circle cx="432.12" cy="81.8" r="1.8" fill="#fff" stroke="#444" stroke-width="0.85"/>
<circle cx="441.38" cy="47.6" r="1.8" fill="#fff" stroke="#444" stroke-width="0.85"/>
<circle cx="450.64" cy="31" r="1.8" fill="#fff" stroke="#444" stroke-width="0.85"/>
<circle cx="459.9" cy="22.4" r="1.8" fill="#fff" stroke="#444" stroke-width="0.85"/>
<circle cx="469.16" cy="18" r="1.8" fill="#fff" stroke="#444" stroke-width="0.85"/>
<circle cx="478.42" cy="15.2" r="1.8" fill="#fff" stroke="#444" stroke-width="0.85"/>
<circle cx="487.68" cy="14" r="1.8" fill="#fff" stroke="#444" stroke-width="0.85"/>
<circle cx="496.94" cy="13" r="1.8" fill="#fff" stroke="#444" stroke-width="0.85"/>
<circle cx="506.2" cy="12.4" r="1.8" fill="#fff" stroke="#444" stroke-width="0.85"/>
<circle cx="515.46" cy="12" r="1.8" fill="#fff" stroke="#444" stroke-width="0.85"/>
<path d="M313 146 C314.33 142.67 318.12 132.77 321 126 C323.88 119.23 327.17 112.07 330.26 105.4 C333.35 98.73 336.43 91.4 339.52 86 C342.61 80.6 345.69 75.77 348.78 73 C351.87 70.23 354.95 69.4 358.04 69.4 C361.13 69.4 364.21 70.9 367.3 73 C370.39 75.1 373.47 79.17 376.56 82 C379.65 84.83 382.73 87.67 385.82 90 C388.91 92.33 391.99 94.33 395.08 96 C398.17 97.67 401.25 99.13 404.34 100 C407.43 100.87 410.51 100.97 413.6 101.2 C416.69 101.43 419.77 101.03 422.86 101.4 C425.95 101.77 429.03 102.57 432.12 103.4 C435.21 104.23 438.29 105.13 441.38 106.4 C444.47 107.67 447.55 109.4 450.64 111 C453.73 112.6 456.81 114.4 459.9 116 C462.99 117.6 466.07 119.2 469.16 120.6 C472.25 122 475.33 123.23 478.42 124.4 C481.51 125.57 484.59 126.73 487.68 127.6 C490.77 128.47 493.85 129.13 496.94 129.6 C500.03 130.07 503.11 130.33 506.2 130.4 C509.29 130.47 513.92 130.07 515.46 130" fill="none" stroke="#7f7f7f" stroke-width="1"/>
<circle cx="321" cy="126" r="2.3" fill="#7f7f7f" stroke="#7f7f7f" stroke-width="0.3"/>
<circle cx="330.26" cy="105.4" r="2.3" fill="#7f7f7f" stroke="#7f7f7f" stroke-width="0.3"/>
<circle cx="339.52" cy="86" r="2.3" fill="#7f7f7f" stroke="#7f7f7f" stroke-width="0.3"/>
<circle cx="348.78" cy="73" r="2.3" fill="#7f7f7f" stroke="#7f7f7f" stroke-width="0.3"/>
<circle cx="358.04" cy="69.4" r="2.3" fill="#7f7f7f" stroke="#7f7f7f" stroke-width="0.3"/>
<circle cx="367.3" cy="73" r="2.3" fill="#7f7f7f" stroke="#7f7f7f" stroke-width="0.3"/>
<circle cx="376.56" cy="82" r="2.3" fill="#7f7f7f" stroke="#7f7f7f" stroke-width="0.3"/>
<circle cx="385.82" cy="90" r="2.3" fill="#7f7f7f" stroke="#7f7f7f" stroke-width="0.3"/>
<circle cx="395.08" cy="96" r="2.3" fill="#7f7f7f" stroke="#7f7f7f" stroke-width="0.3"/>
<circle cx="404.34" cy="100" r="2.3" fill="#7f7f7f" stroke="#7f7f7f" stroke-width="0.3"/>
<circle cx="413.6" cy="101.2" r="2.3" fill="#7f7f7f" stroke="#7f7f7f" stroke-width="0.3"/>
<circle cx="422.86" cy="101.4" r="2.3" fill="#7f7f7f" stroke="#7f7f7f" stroke-width="0.3"/>
<circle cx="432.12" cy="103.4" r="2.3" fill="#7f7f7f" stroke="#7f7f7f" stroke-width="0.3"/>
<circle cx="441.38" cy="106.4" r="2.3" fill="#7f7f7f" stroke="#7f7f7f" stroke-width="0.3"/>
<circle cx="450.64" cy="111" r="2.3" fill="#7f7f7f" stroke="#7f7f7f" stroke-width="0.3"/>
<circle cx="459.9" cy="116" r="2.3" fill="#7f7f7f" stroke="#7f7f7f" stroke-width="0.3"/>
<circle cx="469.16" cy="120.6" r="2.3" fill="#7f7f7f" stroke="#7f7f7f" stroke-width="0.3"/>
<circle cx="478.42" cy="124.4" r="2.3" fill="#7f7f7f" stroke="#7f7f7f" stroke-width="0.3"/>
<circle cx="487.68" cy="127.6" r="2.3" fill="#7f7f7f" stroke="#7f7f7f" stroke-width="0.3"/>
<circle cx="496.94" cy="129.6" r="2.3" fill="#7f7f7f" stroke="#7f7f7f" stroke-width="0.3"/>
<circle cx="506.2" cy="130.4" r="2.3" fill="#7f7f7f" stroke="#7f7f7f" stroke-width="0.3"/>
<circle cx="515.46" cy="130" r="2.3" fill="#7f7f7f" stroke="#7f7f7f" stroke-width="0.3"/>
<path d="M313 72.3 C314.33 70.92 318.12 67.32 321 64 C323.88 60.68 327.17 56.63 330.26 52.4 C333.35 48.17 336.43 43.17 339.52 38.6 C342.61 34.03 345.69 28.93 348.78 25 C351.87 21.07 354.95 17.17 358.04 15 C361.13 12.83 364.21 12.33 367.3 12 C370.39 11.67 373.47 12.57 376.56 13 C379.65 13.43 382.73 14.2 385.82 14.6 C388.91 15 391.99 15.33 395.08 15.4 C398.17 15.47 401.25 15.23 404.34 15 C407.43 14.77 410.51 14.27 413.6 14 C416.69 13.73 419.77 13.33 422.86 13.4 C425.95 13.47 429.03 13.53 432.12 14.4 C435.21 15.27 438.29 16.83 441.38 18.6 C444.47 20.37 447.55 22.77 450.64 25 C453.73 27.23 456.81 29.57 459.9 32 C462.99 34.43 466.07 37.1 469.16 39.6 C472.25 42.1 475.33 44.83 478.42 47 C481.51 49.17 484.59 50.77 487.68 52.6 C490.77 54.43 493.85 56.5 496.94 58 C500.03 59.5 503.11 60.53 506.2 61.6 C509.29 62.67 513.92 63.93 515.46 64.4" fill="none" stroke="#303030" stroke-width="1"/>
<rect x="319.05" y="62.05" width="3.9" height="3.9" fill="#303030" stroke="#303030" stroke-width="0.3"/>
<rect x="328.31" y="50.45" width="3.9" height="3.9" fill="#303030" stroke="#303030" stroke-width="0.3"/>
<rect x="337.57" y="36.65" width="3.9" height="3.9" fill="#303030" stroke="#303030" stroke-width="0.3"/>
<rect x="346.83" y="23.05" width="3.9" height="3.9" fill="#303030" stroke="#303030" stroke-width="0.3"/>
<rect x="356.09" y="13.05" width="3.9" height="3.9" fill="#303030" stroke="#303030" stroke-width="0.3"/>
<rect x="365.35" y="10.05" width="3.9" height="3.9" fill="#303030" stroke="#303030" stroke-width="0.3"/>
<rect x="374.61" y="11.05" width="3.9" height="3.9" fill="#303030" stroke="#303030" stroke-width="0.3"/>
<rect x="383.87" y="12.65" width="3.9" height="3.9" fill="#303030" stroke="#303030" stroke-width="0.3"/>
<rect x="393.13" y="13.45" width="3.9" height="3.9" fill="#303030" stroke="#303030" stroke-width="0.3"/>
<rect x="402.39" y="13.05" width="3.9" height="3.9" fill="#303030" stroke="#303030" stroke-width="0.3"/>
<rect x="411.65" y="12.05" width="3.9" height="3.9" fill="#303030" stroke="#303030" stroke-width="0.3"/>
<rect x="420.91" y="11.45" width="3.9" height="3.9" fill="#303030" stroke="#303030" stroke-width="0.3"/>
<rect x="430.17" y="12.45" width="3.9" height="3.9" fill="#303030" stroke="#303030" stroke-width="0.3"/>
<rect x="439.43" y="16.65" width="3.9" height="3.9" fill="#303030" stroke="#303030" stroke-width="0.3"/>
<rect x="448.69" y="23.05" width="3.9" height="3.9" fill="#303030" stroke="#303030" stroke-width="0.3"/>
<rect x="457.95" y="30.05" width="3.9" height="3.9" fill="#303030" stroke="#303030" stroke-width="0.3"/>
<rect x="467.21" y="37.65" width="3.9" height="3.9" fill="#303030" stroke="#303030" stroke-width="0.3"/>
<rect x="476.47" y="45.05" width="3.9" height="3.9" fill="#303030" stroke="#303030" stroke-width="0.3"/>
<rect x="485.73" y="50.65" width="3.9" height="3.9" fill="#303030" stroke="#303030" stroke-width="0.3"/>
<rect x="494.99" y="56.05" width="3.9" height="3.9" fill="#303030" stroke="#303030" stroke-width="0.3"/>
<rect x="504.25" y="59.65" width="3.9" height="3.9" fill="#303030" stroke="#303030" stroke-width="0.3"/>
<rect x="513.51" y="62.45" width="3.9" height="3.9" fill="#303030" stroke="#303030" stroke-width="0.3"/>
<path d="M313 71.8 C313.8 72.02 316.18 72.62 317.8 73.1 C319.42 73.58 321.07 74.1 322.7 74.7 C324.33 75.3 325.97 75.93 327.6 76.7 C329.23 77.47 330.85 78.35 332.5 79.3 C334.15 80.25 335.85 81.25 337.5 82.4 C339.15 83.55 340.77 84.88 342.4 86.2 C344.03 87.52 345.67 88.8 347.3 90.3 C348.93 91.8 350.57 93.43 352.2 95.2 C353.83 96.97 355.25 98.58 357.1 100.9 C358.95 103.22 361.48 106.83 363.3 109.1 C365.12 111.37 366.05 112.43 368 114.5 C369.95 116.57 372.67 119.25 375 121.5 C377.33 123.75 379.43 125.8 382 128 C384.57 130.2 387.57 132.53 390.4 134.7 C393.23 136.87 396.07 138.85 399 141 C401.93 143.15 404.83 145.27 408 147.6 C411.17 149.93 414.78 152.63 418 155 C421.22 157.37 425.75 160.67 427.3 161.8" fill="none" stroke="#c4303e" stroke-width="1.35" stroke-linejoin="round"/>
<path d="M427.3 161.8 L427.3 8" fill="none" stroke="#c4303e" stroke-width="1.35" stroke-linejoin="round"/>
<path d="M427.3 8 C428.43 9 432.18 12.37 434.1 14 C436.02 15.63 437.23 16.53 438.8 17.8 C440.37 19.07 441.93 20.43 443.5 21.6 C445.07 22.77 446.62 23.73 448.2 24.8 C449.78 25.87 451.42 26.97 453 28 C454.58 29.03 456.13 30.07 457.7 31 C459.27 31.93 460.83 32.75 462.4 33.6 C463.97 34.45 465.53 35.35 467.1 36.1 C468.67 36.85 470.23 37.45 471.8 38.1 C473.37 38.75 474.15 39.18 476.5 40 C478.85 40.82 482.77 42.08 485.9 43 C489.03 43.92 492.17 44.77 495.3 45.5 C498.43 46.23 501.12 46.73 504.7 47.4 C508.28 48.07 514.78 49.15 516.8 49.5" fill="none" stroke="#c4303e" stroke-width="1.35" stroke-linejoin="round"/>
</g>
<ellipse cx="336" cy="45" rx="2.8" ry="8.8" fill="none" stroke="#111" stroke-width="0.95" transform="rotate(6 336 45)"/><line x1="335" y1="38.6" x2="326.9" y2="38.6" stroke="#111" stroke-width="0.9"/><path d="M324.4 38.6 L329.3 36.6 L329.3 40.6 Z" fill="#111"/>
<ellipse cx="352.2" cy="71.9" rx="2.9" ry="8.6" fill="none" stroke="#111" stroke-width="0.95" transform="rotate(0 352.2 71.9)"/><line x1="351.6" y1="64.6" x2="344.3" y2="64.6" stroke="#111" stroke-width="0.9"/><path d="M341.8 64.6 L346.7 62.6 L346.7 66.6 Z" fill="#111"/>
<ellipse cx="392" cy="49.2" rx="2.7" ry="10" fill="none" stroke="#111" stroke-width="0.95" transform="rotate(0 392 49.2)"/><line x1="391.2" y1="40.4" x2="381.9" y2="40.4" stroke="#111" stroke-width="0.9"/><path d="M379.4 40.4 L384.3 38.4 L384.3 42.4 Z" fill="#111"/>
<ellipse cx="396.1" cy="143.2" rx="3.2" ry="8.9" fill="none" stroke="#111" stroke-width="0.95" transform="rotate(0 396.1 143.2)"/><line x1="396.8" y1="150.8" x2="406.7" y2="150.8" stroke="#111" stroke-width="0.9"/><path d="M409.2 150.8 L404.3 148.8 L404.3 152.8 Z" fill="#111"/>
<rect x="314.6" y="109" width="75.6" height="49.5" fill="#fff" stroke="#cfcfcf" stroke-width="0.8"/>
<line x1="315.8" y1="114.6" x2="340.1" y2="114.6" stroke="#303030" stroke-width="1.2" stroke-dasharray="2.8 1.9"/>
<rect x="325.95" y="112.95" width="3.3" height="3.3" fill="#fff" stroke="#303030" stroke-width="1.1"/>
<line x1="315.8" y1="123.85" x2="340.1" y2="123.85" stroke="#303030" stroke-width="1.2"/>
<rect x="325.65" y="121.9" width="3.9" height="3.9" fill="#303030" stroke="#303030" stroke-width="0.4"/>
<line x1="315.8" y1="133.1" x2="340.1" y2="133.1" stroke="#555" stroke-width="1" stroke-dasharray="1.3 2.1"/>
<circle cx="327.6" cy="133.1" r="1.9" fill="#fff" stroke="#444" stroke-width="0.9"/>
<line x1="315.8" y1="142.35" x2="340.1" y2="142.35" stroke="#7f7f7f" stroke-width="1.1"/>
<circle cx="327.6" cy="142.35" r="2.3" fill="#7f7f7f" stroke="#7f7f7f" stroke-width="0.3"/>
<line x1="315.8" y1="151.6" x2="340.1" y2="151.6" stroke="#c4303e" stroke-width="1.5"/>
<text transform="translate(341.8 117.3) scale(0.9 1)" text-anchor="start" class="lg">S11(Co Pol.)</text>
<text transform="translate(341.8 126.55) scale(0.9 1)" text-anchor="start" class="lg">S21(Co Pol.)</text>
<text transform="translate(341.8 135.8) scale(0.9 1)" text-anchor="start" class="lg">S22(Co Pol.)</text>
<text transform="translate(341.8 145.05) scale(0.9 1)" text-anchor="start" class="lg">S21(Cross Pol.)</text>
<text transform="translate(341.8 154.3) scale(0.9 1)" text-anchor="start" class="lg">Phase(Co Pol.)</text>
<path d="M313 161.8v-2.2M313 8v2.2M322.26 161.8v-1.2M322.26 8v1.2M331.53 161.8v-2.2M331.53 8v2.2M340.79 161.8v-1.2M340.79 8v1.2M350.05 161.8v-2.2M350.05 8v2.2M359.32 161.8v-1.2M359.32 8v1.2M368.58 161.8v-2.2M368.58 8v2.2M377.85 161.8v-1.2M377.85 8v1.2M387.11 161.8v-2.2M387.11 8v2.2M396.37 161.8v-1.2M396.37 8v1.2M405.64 161.8v-2.2M405.64 8v2.2M414.9 161.8v-1.2M414.9 8v1.2M424.16 161.8v-2.2M424.16 8v2.2M433.43 161.8v-1.2M433.43 8v1.2M442.69 161.8v-2.2M442.69 8v2.2M451.95 161.8v-1.2M451.95 8v1.2M461.22 161.8v-2.2M461.22 8v2.2M470.48 161.8v-1.2M470.48 8v1.2M479.75 161.8v-2.2M479.75 8v2.2M489.01 161.8v-1.2M489.01 8v1.2M498.27 161.8v-2.2M498.27 8v2.2M507.54 161.8v-1.2M507.54 8v1.2M516.8 161.8v-2.2M516.8 8v2.2M313 8h2.2M516.8 8h-2.2M313 20.82h1.2M516.8 20.82h-1.2M313 33.63h2.2M516.8 33.63h-2.2M313 46.45h1.2M516.8 46.45h-1.2M313 59.27h2.2M516.8 59.27h-2.2M313 72.08h1.2M516.8 72.08h-1.2M313 84.9h2.2M516.8 84.9h-2.2M313 97.72h1.2M516.8 97.72h-1.2M313 110.53h2.2M516.8 110.53h-2.2M313 123.35h1.2M516.8 123.35h-1.2M313 136.17h2.2M516.8 136.17h-2.2M313 148.98h1.2M516.8 148.98h-1.2M313 161.8h2.2M516.8 161.8h-2.2" stroke="#666666" stroke-width="0.8" fill="none"/>
<rect x="313" y="8" width="203.8" height="153.8" fill="none" stroke="#666666" stroke-width="1.1"/>
<text x="313" y="171.9" text-anchor="middle" class="tk">8.2</text>
<text x="331.53" y="171.9" text-anchor="middle" class="tk">8.4</text>
<text x="350.05" y="171.9" text-anchor="middle" class="tk">8.6</text>
<text x="368.58" y="171.9" text-anchor="middle" class="tk">8.8</text>
<text x="387.11" y="171.9" text-anchor="middle" class="tk">9.0</text>
<text x="405.64" y="171.9" text-anchor="middle" class="tk">9.2</text>
<text x="424.16" y="171.9" text-anchor="middle" class="tk">9.4</text>
<text x="442.69" y="171.9" text-anchor="middle" class="tk">9.6</text>
<text x="461.22" y="171.9" text-anchor="middle" class="tk">9.8</text>
<text x="479.75" y="171.9" text-anchor="middle" class="tk">10.0</text>
<text x="498.27" y="171.9" text-anchor="middle" class="tk">10.2</text>
<text x="516.8" y="171.9" text-anchor="middle" class="tk">10.4</text>
<text x="309.9" y="10.2" text-anchor="end" class="tk">0</text>
<text x="309.9" y="35.83" text-anchor="end" class="tk">−5</text>
<text x="309.9" y="61.47" text-anchor="end" class="tk">−10</text>
<text x="309.9" y="87.1" text-anchor="end" class="tk">−15</text>
<text x="309.9" y="112.73" text-anchor="end" class="tk">−20</text>
<text x="309.9" y="138.37" text-anchor="end" class="tk">−25</text>
<text x="309.9" y="164" text-anchor="end" class="tk">−30</text>
<text x="519.6" y="10.3" text-anchor="start" class="tk">180</text>
<text x="519.6" y="35.93" text-anchor="start" class="tk">120</text>
<text x="519.6" y="61.57" text-anchor="start" class="tk">60</text>
<text x="519.6" y="87.2" text-anchor="start" class="tk">0</text>
<text x="519.6" y="112.83" text-anchor="start" class="tk">−60</text>
<text x="519.6" y="138.47" text-anchor="start" class="tk">−120</text>
<text x="519.6" y="164.1" text-anchor="start" class="tk">−180</text>
<text transform="translate(414.9 182.1) scale(0.9 1)" text-anchor="middle" class="ax">Frequency (GHz)</text>
<text transform="translate(294.2 84.4) rotate(-90) scale(1 0.9)" text-anchor="middle" class="ax">Magnitude (dB)</text>
<text transform="translate(537.1 69.7) rotate(90) scale(1 0.9)" class="ang">∠</text>
<text transform="translate(538.5 76.2) rotate(90) scale(1 0.9)" class="ax">S<tspan class="sub" dy="0.2">21</tspan><tspan dy="-0.2"> (deg)</tspan></text>
<text x="417.3" y="206.6" text-anchor="middle" class="cap">(b)</text>
</g>
<g id="plot-c">
<rect x="35" y="221.3" width="204.5" height="154" fill="#fff"/>
<path d="M53.59 221.3V375.3M72.18 221.3V375.3M90.77 221.3V375.3M109.36 221.3V375.3M127.95 221.3V375.3M146.55 221.3V375.3M165.14 221.3V375.3M183.73 221.3V375.3M202.32 221.3V375.3M220.91 221.3V375.3M35 246.97H239.5M35 272.63H239.5M35 298.3H239.5M35 323.97H239.5M35 349.63H239.5" stroke="#e6e6e6" stroke-width="0.7" fill="none"/>
<clipPath id="bcc"><rect x="146.5" y="221.3" width="19.1" height="154"/></clipPath>
<rect x="146.5" y="221.3" width="19.1" height="154" fill="#f8fafd"/>
<path d="M7.9 375.3L146.5 221.3M10.3 375.3L148.9 221.3M12.7 375.3L151.3 221.3M15.1 375.3L153.7 221.3M17.5 375.3L156.1 221.3M19.9 375.3L158.5 221.3M22.3 375.3L160.9 221.3M24.7 375.3L163.3 221.3M27.1 375.3L165.7 221.3M29.5 375.3L168.1 221.3M31.9 375.3L170.5 221.3M34.3 375.3L172.9 221.3M36.7 375.3L175.3 221.3M39.1 375.3L177.7 221.3M41.5 375.3L180.1 221.3M43.9 375.3L182.5 221.3M46.3 375.3L184.9 221.3M48.7 375.3L187.3 221.3M51.1 375.3L189.7 221.3M53.5 375.3L192.1 221.3M55.9 375.3L194.5 221.3M58.3 375.3L196.9 221.3M60.7 375.3L199.3 221.3M63.1 375.3L201.7 221.3M65.5 375.3L204.1 221.3M67.9 375.3L206.5 221.3M70.3 375.3L208.9 221.3M72.7 375.3L211.3 221.3M75.1 375.3L213.7 221.3M77.5 375.3L216.1 221.3M79.9 375.3L218.5 221.3M82.3 375.3L220.9 221.3M84.7 375.3L223.3 221.3M87.1 375.3L225.7 221.3M89.5 375.3L228.1 221.3M91.9 375.3L230.5 221.3M94.3 375.3L232.9 221.3M96.7 375.3L235.3 221.3M99.1 375.3L237.7 221.3M101.5 375.3L240.1 221.3M103.9 375.3L242.5 221.3M106.3 375.3L244.9 221.3M108.7 375.3L247.3 221.3M111.1 375.3L249.7 221.3M113.5 375.3L252.1 221.3M115.9 375.3L254.5 221.3M118.3 375.3L256.9 221.3M120.7 375.3L259.3 221.3M123.1 375.3L261.7 221.3M125.5 375.3L264.1 221.3M127.9 375.3L266.5 221.3M130.3 375.3L268.9 221.3M132.7 375.3L271.3 221.3M135.1 375.3L273.7 221.3M137.5 375.3L276.1 221.3M139.9 375.3L278.5 221.3M142.3 375.3L280.9 221.3M144.7 375.3L283.3 221.3M147.1 375.3L285.7 221.3M149.5 375.3L288.1 221.3M151.9 375.3L290.5 221.3M154.3 375.3L292.9 221.3M156.7 375.3L295.3 221.3M159.1 375.3L297.7 221.3M161.5 375.3L300.1 221.3M163.9 375.3L302.5 221.3" stroke="#a9bbd3" stroke-width="0.6" fill="none" clip-path="url(#bcc)"/>
<rect x="146.5" y="221.3" width="19.1" height="154" fill="none" stroke="#a9c6e4" stroke-width="0.8" stroke-dasharray="1.6 0.8"/>
<clipPath id="cpc"><rect x="33" y="219.3" width="208.5" height="158"/></clipPath>
<g clip-path="url(#cpc)">
<path d="M35 226.5 L43.6 228 L52.87 232 L62.13 235 L71.4 241.5 L80.66 255.6 L89.93 293.6 L96.8 337 L99.19 319 L108.46 282 L117.72 270 L126.99 267.4 L136.25 272.6 L145.52 289.4 L154.78 330 L157.2 338.5 L164.05 302 L173.31 267.4 L182.58 249.6 L191.84 239 L201.1 233.4 L210.37 230.4 L219.64 228 L228.9 227 L238.16 226.4" fill="none" stroke="#303030" stroke-width="1.1" stroke-dasharray="2.6 1.7"/>
<rect x="42" y="226.4" width="3.2" height="3.2" fill="#fff" stroke="#303030" stroke-width="1"/>
<rect x="51.27" y="230.4" width="3.2" height="3.2" fill="#fff" stroke="#303030" stroke-width="1"/>
<rect x="60.53" y="233.4" width="3.2" height="3.2" fill="#fff" stroke="#303030" stroke-width="1"/>
<rect x="69.8" y="239.9" width="3.2" height="3.2" fill="#fff" stroke="#303030" stroke-width="1"/>
<rect x="79.06" y="254" width="3.2" height="3.2" fill="#fff" stroke="#303030" stroke-width="1"/>
<rect x="88.33" y="292" width="3.2" height="3.2" fill="#fff" stroke="#303030" stroke-width="1"/>
<rect x="97.59" y="317.4" width="3.2" height="3.2" fill="#fff" stroke="#303030" stroke-width="1"/>
<rect x="106.86" y="280.4" width="3.2" height="3.2" fill="#fff" stroke="#303030" stroke-width="1"/>
<rect x="116.12" y="268.4" width="3.2" height="3.2" fill="#fff" stroke="#303030" stroke-width="1"/>
<rect x="125.39" y="265.8" width="3.2" height="3.2" fill="#fff" stroke="#303030" stroke-width="1"/>
<rect x="134.65" y="271" width="3.2" height="3.2" fill="#fff" stroke="#303030" stroke-width="1"/>
<rect x="143.92" y="287.8" width="3.2" height="3.2" fill="#fff" stroke="#303030" stroke-width="1"/>
<rect x="153.18" y="328.4" width="3.2" height="3.2" fill="#fff" stroke="#303030" stroke-width="1"/>
<rect x="162.45" y="300.4" width="3.2" height="3.2" fill="#fff" stroke="#303030" stroke-width="1"/>
<rect x="171.71" y="265.8" width="3.2" height="3.2" fill="#fff" stroke="#303030" stroke-width="1"/>
<rect x="180.98" y="248" width="3.2" height="3.2" fill="#fff" stroke="#303030" stroke-width="1"/>
<rect x="190.24" y="237.4" width="3.2" height="3.2" fill="#fff" stroke="#303030" stroke-width="1"/>
<rect x="199.5" y="231.8" width="3.2" height="3.2" fill="#fff" stroke="#303030" stroke-width="1"/>
<rect x="208.77" y="228.8" width="3.2" height="3.2" fill="#fff" stroke="#303030" stroke-width="1"/>
<rect x="218.04" y="226.4" width="3.2" height="3.2" fill="#fff" stroke="#303030" stroke-width="1"/>
<rect x="227.3" y="225.4" width="3.2" height="3.2" fill="#fff" stroke="#303030" stroke-width="1"/>
<rect x="236.56" y="224.8" width="3.2" height="3.2" fill="#fff" stroke="#303030" stroke-width="1"/>
<path d="M35 223 L43.6 224 L52.87 226.6 L62.13 230.6 L71.4 240.5 L80.66 259 L89.93 307.4 L94.4 336 L99.19 301 L108.46 271 L117.72 260.6 L126.99 258 L136.25 261 L145.52 267.6 L154.78 277 L164.05 274.6 L173.31 260.4 L182.58 247 L191.84 238.6 L201.1 233.6 L210.37 230.6 L219.64 228.6 L228.9 227.4 L238.16 226.8" fill="none" stroke="#4a4a4a" stroke-width="1" stroke-dasharray="1.3 2.0"/>
<circle cx="43.6" cy="224" r="1.8" fill="#fff" stroke="#444" stroke-width="0.85"/>
<circle cx="52.87" cy="226.6" r="1.8" fill="#fff" stroke="#444" stroke-width="0.85"/>
<circle cx="62.13" cy="230.6" r="1.8" fill="#fff" stroke="#444" stroke-width="0.85"/>
<circle cx="71.4" cy="240.5" r="1.8" fill="#fff" stroke="#444" stroke-width="0.85"/>
<circle cx="80.66" cy="259" r="1.8" fill="#fff" stroke="#444" stroke-width="0.85"/>
<circle cx="89.93" cy="307.4" r="1.8" fill="#fff" stroke="#444" stroke-width="0.85"/>
<circle cx="99.19" cy="301" r="1.8" fill="#fff" stroke="#444" stroke-width="0.85"/>
<circle cx="108.46" cy="271" r="1.8" fill="#fff" stroke="#444" stroke-width="0.85"/>
<circle cx="117.72" cy="260.6" r="1.8" fill="#fff" stroke="#444" stroke-width="0.85"/>
<circle cx="126.99" cy="258" r="1.8" fill="#fff" stroke="#444" stroke-width="0.85"/>
<circle cx="136.25" cy="261" r="1.8" fill="#fff" stroke="#444" stroke-width="0.85"/>
<circle cx="145.52" cy="267.6" r="1.8" fill="#fff" stroke="#444" stroke-width="0.85"/>
<circle cx="154.78" cy="277" r="1.8" fill="#fff" stroke="#444" stroke-width="0.85"/>
<circle cx="164.05" cy="274.6" r="1.8" fill="#fff" stroke="#444" stroke-width="0.85"/>
<circle cx="173.31" cy="260.4" r="1.8" fill="#fff" stroke="#444" stroke-width="0.85"/>
<circle cx="182.58" cy="247" r="1.8" fill="#fff" stroke="#444" stroke-width="0.85"/>
<circle cx="191.84" cy="238.6" r="1.8" fill="#fff" stroke="#444" stroke-width="0.85"/>
<circle cx="201.1" cy="233.6" r="1.8" fill="#fff" stroke="#444" stroke-width="0.85"/>
<circle cx="210.37" cy="230.6" r="1.8" fill="#fff" stroke="#444" stroke-width="0.85"/>
<circle cx="219.64" cy="228.6" r="1.8" fill="#fff" stroke="#444" stroke-width="0.85"/>
<circle cx="228.9" cy="227.4" r="1.8" fill="#fff" stroke="#444" stroke-width="0.85"/>
<circle cx="238.16" cy="226.8" r="1.8" fill="#fff" stroke="#444" stroke-width="0.85"/>
<path d="M35 323 C36.43 320.4 40.62 312.47 43.6 307.4 C46.58 302.33 49.78 296.6 52.87 292.6 C55.95 288.6 59.04 285.33 62.13 283.4 C65.22 281.47 68.31 281.23 71.4 281 C74.48 280.77 77.57 281.27 80.66 282 C83.75 282.73 86.84 283.83 89.93 285.4 C93.01 286.97 96.1 289.43 99.19 291.4 C102.28 293.37 105.37 295.53 108.46 297.2 C111.54 298.87 114.63 300.43 117.72 301.4 C120.81 302.37 123.9 302.77 126.99 303 C130.07 303.23 133.16 303.07 136.25 302.8 C139.34 302.53 142.43 301.87 145.52 301.4 C148.6 300.93 151.69 300.33 154.78 300 C157.87 299.67 160.96 299.4 164.05 299.4 C167.13 299.4 170.22 299.47 173.31 300 C176.4 300.53 179.49 301.5 182.58 302.6 C185.66 303.7 188.75 305.2 191.84 306.6 C194.93 308 198.02 309.6 201.1 311 C204.19 312.4 207.28 313.73 210.37 315 C213.46 316.27 216.55 317.53 219.64 318.6 C222.72 319.67 225.81 320.67 228.9 321.4 C231.99 322.13 236.62 322.73 238.16 323" fill="none" stroke="#303030" stroke-width="1"/>
<rect x="41.65" y="305.45" width="3.9" height="3.9" fill="#303030" stroke="#303030" stroke-width="0.3"/>
<rect x="50.91" y="290.65" width="3.9" height="3.9" fill="#303030" stroke="#303030" stroke-width="0.3"/>
<rect x="60.18" y="281.45" width="3.9" height="3.9" fill="#303030" stroke="#303030" stroke-width="0.3"/>
<rect x="69.45" y="279.05" width="3.9" height="3.9" fill="#303030" stroke="#303030" stroke-width="0.3"/>
<rect x="78.71" y="280.05" width="3.9" height="3.9" fill="#303030" stroke="#303030" stroke-width="0.3"/>
<rect x="87.98" y="283.45" width="3.9" height="3.9" fill="#303030" stroke="#303030" stroke-width="0.3"/>
<rect x="97.24" y="289.45" width="3.9" height="3.9" fill="#303030" stroke="#303030" stroke-width="0.3"/>
<rect x="106.51" y="295.25" width="3.9" height="3.9" fill="#303030" stroke="#303030" stroke-width="0.3"/>
<rect x="115.77" y="299.45" width="3.9" height="3.9" fill="#303030" stroke="#303030" stroke-width="0.3"/>
<rect x="125.04" y="301.05" width="3.9" height="3.9" fill="#303030" stroke="#303030" stroke-width="0.3"/>
<rect x="134.3" y="300.85" width="3.9" height="3.9" fill="#303030" stroke="#303030" stroke-width="0.3"/>
<rect x="143.57" y="299.45" width="3.9" height="3.9" fill="#303030" stroke="#303030" stroke-width="0.3"/>
<rect x="152.83" y="298.05" width="3.9" height="3.9" fill="#303030" stroke="#303030" stroke-width="0.3"/>
<rect x="162.1" y="297.45" width="3.9" height="3.9" fill="#303030" stroke="#303030" stroke-width="0.3"/>
<rect x="171.36" y="298.05" width="3.9" height="3.9" fill="#303030" stroke="#303030" stroke-width="0.3"/>
<rect x="180.63" y="300.65" width="3.9" height="3.9" fill="#303030" stroke="#303030" stroke-width="0.3"/>
<rect x="189.89" y="304.65" width="3.9" height="3.9" fill="#303030" stroke="#303030" stroke-width="0.3"/>
<rect x="199.16" y="309.05" width="3.9" height="3.9" fill="#303030" stroke="#303030" stroke-width="0.3"/>
<rect x="208.42" y="313.05" width="3.9" height="3.9" fill="#303030" stroke="#303030" stroke-width="0.3"/>
<rect x="217.69" y="316.65" width="3.9" height="3.9" fill="#303030" stroke="#303030" stroke-width="0.3"/>
<rect x="226.95" y="319.45" width="3.9" height="3.9" fill="#303030" stroke="#303030" stroke-width="0.3"/>
<rect x="236.22" y="321.05" width="3.9" height="3.9" fill="#303030" stroke="#303030" stroke-width="0.3"/>
<path d="M35 287 C36.43 285.77 40.62 282.77 43.6 279.6 C46.58 276.43 49.78 272.1 52.87 268 C55.95 263.9 59.04 259.5 62.13 255 C65.22 250.5 68.31 244.9 71.4 241 C74.48 237.1 77.57 234.1 80.66 231.6 C83.75 229.1 86.84 227.03 89.93 226 C93.01 224.97 96.1 225.23 99.19 225.4 C102.28 225.57 105.37 226.5 108.46 227 C111.54 227.5 114.63 228.07 117.72 228.4 C120.81 228.73 123.9 228.97 126.99 229 C130.07 229.03 133.16 228.77 136.25 228.6 C139.34 228.43 142.43 228.17 145.52 228 C148.6 227.83 151.69 227.5 154.78 227.6 C157.87 227.7 160.96 227.97 164.05 228.6 C167.13 229.23 170.22 230.17 173.31 231.4 C176.4 232.63 179.49 234.23 182.58 236 C185.66 237.77 188.75 239.93 191.84 242 C194.93 244.07 198.02 246.33 201.1 248.4 C204.19 250.47 207.28 252.47 210.37 254.4 C213.46 256.33 216.55 258.33 219.64 260 C222.72 261.67 225.81 263.17 228.9 264.4 C231.99 265.63 236.62 266.9 238.16 267.4" fill="none" stroke="#7f7f7f" stroke-width="1"/>
<circle cx="43.6" cy="279.6" r="2.3" fill="#7f7f7f" stroke="#7f7f7f" stroke-width="0.3"/>
<circle cx="52.87" cy="268" r="2.3" fill="#7f7f7f" stroke="#7f7f7f" stroke-width="0.3"/>
<circle cx="62.13" cy="255" r="2.3" fill="#7f7f7f" stroke="#7f7f7f" stroke-width="0.3"/>
<circle cx="71.4" cy="241" r="2.3" fill="#7f7f7f" stroke="#7f7f7f" stroke-width="0.3"/>
<circle cx="80.66" cy="231.6" r="2.3" fill="#7f7f7f" stroke="#7f7f7f" stroke-width="0.3"/>
<circle cx="89.93" cy="226" r="2.3" fill="#7f7f7f" stroke="#7f7f7f" stroke-width="0.3"/>
<circle cx="99.19" cy="225.4" r="2.3" fill="#7f7f7f" stroke="#7f7f7f" stroke-width="0.3"/>
<circle cx="108.46" cy="227" r="2.3" fill="#7f7f7f" stroke="#7f7f7f" stroke-width="0.3"/>
<circle cx="117.72" cy="228.4" r="2.3" fill="#7f7f7f" stroke="#7f7f7f" stroke-width="0.3"/>
<circle cx="126.99" cy="229" r="2.3" fill="#7f7f7f" stroke="#7f7f7f" stroke-width="0.3"/>
<circle cx="136.25" cy="228.6" r="2.3" fill="#7f7f7f" stroke="#7f7f7f" stroke-width="0.3"/>
<circle cx="145.52" cy="228" r="2.3" fill="#7f7f7f" stroke="#7f7f7f" stroke-width="0.3"/>
<circle cx="154.78" cy="227.6" r="2.3" fill="#7f7f7f" stroke="#7f7f7f" stroke-width="0.3"/>
<circle cx="164.05" cy="228.6" r="2.3" fill="#7f7f7f" stroke="#7f7f7f" stroke-width="0.3"/>
<circle cx="173.31" cy="231.4" r="2.3" fill="#7f7f7f" stroke="#7f7f7f" stroke-width="0.3"/>
<circle cx="182.58" cy="236" r="2.3" fill="#7f7f7f" stroke="#7f7f7f" stroke-width="0.3"/>
<circle cx="191.84" cy="242" r="2.3" fill="#7f7f7f" stroke="#7f7f7f" stroke-width="0.3"/>
<circle cx="201.1" cy="248.4" r="2.3" fill="#7f7f7f" stroke="#7f7f7f" stroke-width="0.3"/>
<circle cx="210.37" cy="254.4" r="2.3" fill="#7f7f7f" stroke="#7f7f7f" stroke-width="0.3"/>
<circle cx="219.64" cy="260" r="2.3" fill="#7f7f7f" stroke="#7f7f7f" stroke-width="0.3"/>
<circle cx="228.9" cy="264.4" r="2.3" fill="#7f7f7f" stroke="#7f7f7f" stroke-width="0.3"/>
<circle cx="238.16" cy="267.4" r="2.3" fill="#7f7f7f" stroke="#7f7f7f" stroke-width="0.3"/>
<path d="M35 362.5 C36.83 363.08 42.33 364.67 46 366 C49.67 367.33 53.42 368.95 57 370.5 C60.58 372.05 65.75 374.5 67.5 375.3" fill="none" stroke="#3b78c3" stroke-width="1.35" stroke-linejoin="round"/>
<path d="M67.5 375.3 L67.5 221.3" fill="none" stroke="#3b78c3" stroke-width="1.35" stroke-linejoin="round"/>
<path d="M67.5 221.3 C68.6 222.32 72.22 225.6 74.1 227.4 C75.98 229.2 77.23 230.43 78.8 232.1 C80.37 233.77 81.93 235.67 83.5 237.4 C85.07 239.13 86.62 240.77 88.2 242.5 C89.78 244.23 91.42 246.08 93 247.8 C94.58 249.52 96.13 251.23 97.7 252.8 C99.27 254.37 100.83 255.78 102.4 257.2 C103.97 258.62 105.53 259.98 107.1 261.3 C108.67 262.62 110.23 263.95 111.8 265.1 C113.37 266.25 114.93 267.18 116.5 268.2 C118.07 269.22 119.63 270.2 121.2 271.2 C122.77 272.2 124.33 273.18 125.9 274.2 C127.47 275.22 129.03 276.25 130.6 277.3 C132.17 278.35 133.73 279.42 135.3 280.5 C136.87 281.58 138.42 282.67 140 283.8 C141.58 284.93 143.22 286.18 144.8 287.3 C146.38 288.42 147.92 289.43 149.5 290.5 C151.08 291.57 152.7 292.58 154.3 293.7 C155.9 294.82 157.5 296.05 159.1 297.2 C160.7 298.35 162.32 299.33 163.9 300.6 C165.48 301.87 167.02 303.4 168.6 304.8 C170.18 306.2 171.8 307.67 173.4 309 C175 310.33 176.6 311.58 178.2 312.8 C179.8 314.02 181.42 315.25 183 316.3 C184.58 317.35 186.12 318.22 187.7 319.1 C189.28 319.98 190.9 320.8 192.5 321.6 C194.1 322.4 194.92 322.95 197.3 323.9 C199.68 324.85 203.62 326.28 206.8 327.3 C209.98 328.32 213.22 329.13 216.4 330 C219.58 330.87 222.72 331.77 225.9 332.5 C229.08 333.23 233.23 333.92 235.5 334.4 C237.77 334.88 238.83 335.23 239.5 335.4" fill="none" stroke="#3b78c3" stroke-width="1.35" stroke-linejoin="round"/>
</g>
<ellipse cx="57.2" cy="260" rx="2.8" ry="8.8" fill="none" stroke="#111" stroke-width="0.95" transform="rotate(5 57.2 260)"/><line x1="56.4" y1="253.2" x2="48.5" y2="253.2" stroke="#111" stroke-width="0.9"/><path d="M46 253.2 L50.9 251.2 L50.9 255.2 Z" fill="#111"/>
<ellipse cx="80.7" cy="281.3" rx="2.9" ry="8.9" fill="none" stroke="#111" stroke-width="0.95" transform="rotate(0 80.7 281.3)"/><line x1="80" y1="274.1" x2="72.3" y2="274.1" stroke="#111" stroke-width="0.9"/><path d="M69.8 274.1 L74.7 272.1 L74.7 276.1 Z" fill="#111"/>
<ellipse cx="127.4" cy="262.8" rx="2.9" ry="10.6" fill="none" stroke="#111" stroke-width="0.95" transform="rotate(0 127.4 262.8)"/><line x1="126.8" y1="253.4" x2="117.5" y2="253.4" stroke="#111" stroke-width="0.9"/><path d="M115 253.4 L119.9 251.4 L119.9 255.4 Z" fill="#111"/>
<ellipse cx="191.8" cy="320.2" rx="3.1" ry="8.8" fill="none" stroke="#111" stroke-width="0.95" transform="rotate(0 191.8 320.2)"/><line x1="192.4" y1="327.4" x2="202.3" y2="327.4" stroke="#111" stroke-width="0.9"/><path d="M204.8 327.4 L199.9 325.4 L199.9 329.4 Z" fill="#111"/>
<rect x="36.8" y="322.4" width="81.4" height="49.6" fill="#fff" stroke="#cfcfcf" stroke-width="0.8"/>
<line x1="38" y1="328" x2="62.3" y2="328" stroke="#303030" stroke-width="1.2" stroke-dasharray="2.8 1.9"/>
<rect x="48.15" y="326.35" width="3.3" height="3.3" fill="#fff" stroke="#303030" stroke-width="1.1"/>
<line x1="38" y1="337.25" x2="62.3" y2="337.25" stroke="#303030" stroke-width="1.2"/>
<rect x="47.85" y="335.3" width="3.9" height="3.9" fill="#303030" stroke="#303030" stroke-width="0.4"/>
<line x1="38" y1="346.5" x2="62.3" y2="346.5" stroke="#555" stroke-width="1" stroke-dasharray="1.3 2.1"/>
<circle cx="49.8" cy="346.5" r="1.9" fill="#fff" stroke="#444" stroke-width="0.9"/>
<line x1="38" y1="355.75" x2="62.3" y2="355.75" stroke="#7f7f7f" stroke-width="1.1"/>
<circle cx="49.8" cy="355.75" r="2.3" fill="#7f7f7f" stroke="#7f7f7f" stroke-width="0.3"/>
<line x1="38" y1="365" x2="62.3" y2="365" stroke="#3b78c3" stroke-width="1.5"/>
<text transform="translate(64 330.7) scale(0.9 1)" text-anchor="start" class="lg">S11(Co Pol.)</text>
<text transform="translate(64 339.95) scale(0.9 1)" text-anchor="start" class="lg">S21(Co Pol.)</text>
<text transform="translate(64 349.2) scale(0.9 1)" text-anchor="start" class="lg">S22(Cross Pol.)</text>
<text transform="translate(64 358.45) scale(0.9 1)" text-anchor="start" class="lg">S21(Cross Pol.)</text>
<text transform="translate(64 367.7) scale(0.9 1)" text-anchor="start" class="lg">Phase(Cross Pol.)</text>
<path d="M35 375.3v-2.2M35 221.3v2.2M44.3 375.3v-1.2M44.3 221.3v1.2M53.59 375.3v-2.2M53.59 221.3v2.2M62.89 375.3v-1.2M62.89 221.3v1.2M72.18 375.3v-2.2M72.18 221.3v2.2M81.48 375.3v-1.2M81.48 221.3v1.2M90.77 375.3v-2.2M90.77 221.3v2.2M100.07 375.3v-1.2M100.07 221.3v1.2M109.36 375.3v-2.2M109.36 221.3v2.2M118.66 375.3v-1.2M118.66 221.3v1.2M127.95 375.3v-2.2M127.95 221.3v2.2M137.25 375.3v-1.2M137.25 221.3v1.2M146.55 375.3v-2.2M146.55 221.3v2.2M155.84 375.3v-1.2M155.84 221.3v1.2M165.14 375.3v-2.2M165.14 221.3v2.2M174.43 375.3v-1.2M174.43 221.3v1.2M183.73 375.3v-2.2M183.73 221.3v2.2M193.02 375.3v-1.2M193.02 221.3v1.2M202.32 375.3v-2.2M202.32 221.3v2.2M211.61 375.3v-1.2M211.61 221.3v1.2M220.91 375.3v-2.2M220.91 221.3v2.2M230.2 375.3v-1.2M230.2 221.3v1.2M239.5 375.3v-2.2M239.5 221.3v2.2M35 221.3h2.2M239.5 221.3h-2.2M35 234.13h1.2M239.5 234.13h-1.2M35 246.97h2.2M239.5 246.97h-2.2M35 259.8h1.2M239.5 259.8h-1.2M35 272.63h2.2M239.5 272.63h-2.2M35 285.47h1.2M239.5 285.47h-1.2M35 298.3h2.2M239.5 298.3h-2.2M35 311.13h1.2M239.5 311.13h-1.2M35 323.97h2.2M239.5 323.97h-2.2M35 336.8h1.2M239.5 336.8h-1.2M35 349.63h2.2M239.5 349.63h-2.2M35 362.47h1.2M239.5 362.47h-1.2M35 375.3h2.2M239.5 375.3h-2.2" stroke="#666666" stroke-width="0.8" fill="none"/>
<rect x="35" y="221.3" width="204.5" height="154" fill="none" stroke="#666666" stroke-width="1.1"/>
<text x="35" y="385.4" text-anchor="middle" class="tk">8.2</text>
<text x="53.59" y="385.4" text-anchor="middle" class="tk">8.4</text>
<text x="72.18" y="385.4" text-anchor="middle" class="tk">8.6</text>
<text x="90.77" y="385.4" text-anchor="middle" class="tk">8.8</text>
<text x="109.36" y="385.4" text-anchor="middle" class="tk">9.0</text>
<text x="127.95" y="385.4" text-anchor="middle" class="tk">9.2</text>
<text x="146.55" y="385.4" text-anchor="middle" class="tk">9.4</text>
<text x="165.14" y="385.4" text-anchor="middle" class="tk">9.6</text>
<text x="183.73" y="385.4" text-anchor="middle" class="tk">9.8</text>
<text x="202.32" y="385.4" text-anchor="middle" class="tk">10.0</text>
<text x="220.91" y="385.4" text-anchor="middle" class="tk">10.2</text>
<text x="239.5" y="385.4" text-anchor="middle" class="tk">10.4</text>
<text x="31.9" y="223.5" text-anchor="end" class="tk">0</text>
<text x="31.9" y="249.17" text-anchor="end" class="tk">−5</text>
<text x="31.9" y="274.83" text-anchor="end" class="tk">−10</text>
<text x="31.9" y="300.5" text-anchor="end" class="tk">−15</text>
<text x="31.9" y="326.17" text-anchor="end" class="tk">−20</text>
<text x="31.9" y="351.83" text-anchor="end" class="tk">−25</text>
<text x="31.9" y="377.5" text-anchor="end" class="tk">−30</text>
<text x="242.3" y="223.6" text-anchor="start" class="tk">180</text>
<text x="242.3" y="249.27" text-anchor="start" class="tk">120</text>
<text x="242.3" y="274.93" text-anchor="start" class="tk">60</text>
<text x="242.3" y="300.6" text-anchor="start" class="tk">0</text>
<text x="242.3" y="326.27" text-anchor="start" class="tk">−60</text>
<text x="242.3" y="351.93" text-anchor="start" class="tk">−120</text>
<text x="242.3" y="377.6" text-anchor="start" class="tk">−180</text>
<text transform="translate(137.25 395.6) scale(0.9 1)" text-anchor="middle" class="ax">Frequency (GHz)</text>
<text transform="translate(16.2 297.8) rotate(-90) scale(1 0.9)" text-anchor="middle" class="ax">Magnitude (dB)</text>
<text transform="translate(259.8 283.1) rotate(90) scale(1 0.9)" class="ang">∠</text>
<text transform="translate(261.2 289.6) rotate(90) scale(1 0.9)" class="ax">S<tspan class="sub" dy="0.2">21</tspan><tspan dy="-0.2"> (deg)</tspan></text>
<text x="139.65" y="420.1" text-anchor="middle" class="cap">(c)</text>
</g>
<g id="plot-d">
<rect x="313" y="221.3" width="203.8" height="154" fill="#fff"/>
<path d="M331.53 221.3V375.3M350.05 221.3V375.3M368.58 221.3V375.3M387.11 221.3V375.3M405.64 221.3V375.3M424.16 221.3V375.3M442.69 221.3V375.3M461.22 221.3V375.3M479.75 221.3V375.3M498.27 221.3V375.3M313 246.97H516.8M313 272.63H516.8M313 298.3H516.8M313 323.97H516.8M313 349.63H516.8" stroke="#e6e6e6" stroke-width="0.7" fill="none"/>
<clipPath id="bcd"><rect x="423.4" y="221.3" width="19" height="154"/></clipPath>
<rect x="423.4" y="221.3" width="19" height="154" fill="#f8fafd"/>
<path d="M284.8 375.3L423.4 221.3M287.2 375.3L425.8 221.3M289.6 375.3L428.2 221.3M292 375.3L430.6 221.3M294.4 375.3L433 221.3M296.8 375.3L435.4 221.3M299.2 375.3L437.8 221.3M301.6 375.3L440.2 221.3M304 375.3L442.6 221.3M306.4 375.3L445 221.3M308.8 375.3L447.4 221.3M311.2 375.3L449.8 221.3M313.6 375.3L452.2 221.3M316 375.3L454.6 221.3M318.4 375.3L457 221.3M320.8 375.3L459.4 221.3M323.2 375.3L461.8 221.3M325.6 375.3L464.2 221.3M328 375.3L466.6 221.3M330.4 375.3L469 221.3M332.8 375.3L471.4 221.3M335.2 375.3L473.8 221.3M337.6 375.3L476.2 221.3M340 375.3L478.6 221.3M342.4 375.3L481 221.3M344.8 375.3L483.4 221.3M347.2 375.3L485.8 221.3M349.6 375.3L488.2 221.3M352 375.3L490.6 221.3M354.4 375.3L493 221.3M356.8 375.3L495.4 221.3M359.2 375.3L497.8 221.3M361.6 375.3L500.2 221.3M364 375.3L502.6 221.3M366.4 375.3L505 221.3M368.8 375.3L507.4 221.3M371.2 375.3L509.8 221.3M373.6 375.3L512.2 221.3M376 375.3L514.6 221.3M378.4 375.3L517 221.3M380.8 375.3L519.4 221.3M383.2 375.3L521.8 221.3M385.6 375.3L524.2 221.3M388 375.3L526.6 221.3M390.4 375.3L529 221.3M392.8 375.3L531.4 221.3M395.2 375.3L533.8 221.3M397.6 375.3L536.2 221.3M400 375.3L538.6 221.3M402.4 375.3L541 221.3M404.8 375.3L543.4 221.3M407.2 375.3L545.8 221.3M409.6 375.3L548.2 221.3M412 375.3L550.6 221.3M414.4 375.3L553 221.3M416.8 375.3L555.4 221.3M419.2 375.3L557.8 221.3M421.6 375.3L560.2 221.3M424 375.3L562.6 221.3M426.4 375.3L565 221.3M428.8 375.3L567.4 221.3M431.2 375.3L569.8 221.3M433.6 375.3L572.2 221.3M436 375.3L574.6 221.3M438.4 375.3L577 221.3M440.8 375.3L579.4 221.3" stroke="#a9bbd3" stroke-width="0.6" fill="none" clip-path="url(#bcd)"/>
<rect x="423.4" y="221.3" width="19" height="154" fill="none" stroke="#a9c6e4" stroke-width="0.8" stroke-dasharray="1.6 0.8"/>
<clipPath id="cpd"><rect x="311" y="219.3" width="207.8" height="158"/></clipPath>
<g clip-path="url(#cpd)">
<path d="M313 226.5 L321 228 L330.26 232 L339.52 235 L348.78 241.5 L358.04 255.4 L367.3 292.8 L375.2 346 L376.56 328 L385.82 282 L395.08 269 L404.34 266 L413.6 269.8 L422.86 282.6 L432.12 316.6 L439.3 373 L441.38 338 L450.64 278.6 L459.9 255.4 L469.16 243 L478.42 236 L487.68 231.4 L496.94 228.6 L506.2 227 L515.46 226.4" fill="none" stroke="#303030" stroke-width="1.1" stroke-dasharray="2.6 1.7"/>
<rect x="319.4" y="226.4" width="3.2" height="3.2" fill="#fff" stroke="#303030" stroke-width="1"/>
<rect x="328.66" y="230.4" width="3.2" height="3.2" fill="#fff" stroke="#303030" stroke-width="1"/>
<rect x="337.92" y="233.4" width="3.2" height="3.2" fill="#fff" stroke="#303030" stroke-width="1"/>
<rect x="347.18" y="239.9" width="3.2" height="3.2" fill="#fff" stroke="#303030" stroke-width="1"/>
<rect x="356.44" y="253.8" width="3.2" height="3.2" fill="#fff" stroke="#303030" stroke-width="1"/>
<rect x="365.7" y="291.2" width="3.2" height="3.2" fill="#fff" stroke="#303030" stroke-width="1"/>
<rect x="374.96" y="326.4" width="3.2" height="3.2" fill="#fff" stroke="#303030" stroke-width="1"/>
<rect x="384.22" y="280.4" width="3.2" height="3.2" fill="#fff" stroke="#303030" stroke-width="1"/>
<rect x="393.48" y="267.4" width="3.2" height="3.2" fill="#fff" stroke="#303030" stroke-width="1"/>
<rect x="402.74" y="264.4" width="3.2" height="3.2" fill="#fff" stroke="#303030" stroke-width="1"/>
<rect x="412" y="268.2" width="3.2" height="3.2" fill="#fff" stroke="#303030" stroke-width="1"/>
<rect x="421.26" y="281" width="3.2" height="3.2" fill="#fff" stroke="#303030" stroke-width="1"/>
<rect x="430.52" y="315" width="3.2" height="3.2" fill="#fff" stroke="#303030" stroke-width="1"/>
<rect x="439.78" y="336.4" width="3.2" height="3.2" fill="#fff" stroke="#303030" stroke-width="1"/>
<rect x="449.04" y="277" width="3.2" height="3.2" fill="#fff" stroke="#303030" stroke-width="1"/>
<rect x="458.3" y="253.8" width="3.2" height="3.2" fill="#fff" stroke="#303030" stroke-width="1"/>
<rect x="467.56" y="241.4" width="3.2" height="3.2" fill="#fff" stroke="#303030" stroke-width="1"/>
<rect x="476.82" y="234.4" width="3.2" height="3.2" fill="#fff" stroke="#303030" stroke-width="1"/>
<rect x="486.08" y="229.8" width="3.2" height="3.2" fill="#fff" stroke="#303030" stroke-width="1"/>
<rect x="495.34" y="227" width="3.2" height="3.2" fill="#fff" stroke="#303030" stroke-width="1"/>
<rect x="504.6" y="225.4" width="3.2" height="3.2" fill="#fff" stroke="#303030" stroke-width="1"/>
<rect x="513.86" y="224.8" width="3.2" height="3.2" fill="#fff" stroke="#303030" stroke-width="1"/>
<path d="M313 223 L321 224.4 L330.26 226.6 L339.52 231 L348.78 239.4 L358.04 258 L367.3 304.6 L372.3 340 L376.56 305.4 L385.82 271.6 L395.08 260.6 L404.34 257.4 L413.6 260 L422.86 267 L432.12 278.6 L441.38 285 L450.64 271.4 L459.9 255 L469.16 244 L478.42 237 L487.68 234 L496.94 233.4 L506.2 233 L515.46 232.6" fill="none" stroke="#4a4a4a" stroke-width="1" stroke-dasharray="1.3 2.0"/>
<circle cx="321" cy="224.4" r="1.8" fill="#fff" stroke="#444" stroke-width="0.85"/>
<circle cx="330.26" cy="226.6" r="1.8" fill="#fff" stroke="#444" stroke-width="0.85"/>
<circle cx="339.52" cy="231" r="1.8" fill="#fff" stroke="#444" stroke-width="0.85"/>
<circle cx="348.78" cy="239.4" r="1.8" fill="#fff" stroke="#444" stroke-width="0.85"/>
<circle cx="358.04" cy="258" r="1.8" fill="#fff" stroke="#444" stroke-width="0.85"/>
<circle cx="367.3" cy="304.6" r="1.8" fill="#fff" stroke="#444" stroke-width="0.85"/>
<circle cx="376.56" cy="305.4" r="1.8" fill="#fff" stroke="#444" stroke-width="0.85"/>
<circle cx="385.82" cy="271.6" r="1.8" fill="#fff" stroke="#444" stroke-width="0.85"/>
<circle cx="395.08" cy="260.6" r="1.8" fill="#fff" stroke="#444" stroke-width="0.85"/>
<circle cx="404.34" cy="257.4" r="1.8" fill="#fff" stroke="#444" stroke-width="0.85"/>
<circle cx="413.6" cy="260" r="1.8" fill="#fff" stroke="#444" stroke-width="0.85"/>
<circle cx="422.86" cy="267" r="1.8" fill="#fff" stroke="#444" stroke-width="0.85"/>
<circle cx="432.12" cy="278.6" r="1.8" fill="#fff" stroke="#444" stroke-width="0.85"/>
<circle cx="441.38" cy="285" r="1.8" fill="#fff" stroke="#444" stroke-width="0.85"/>
<circle cx="450.64" cy="271.4" r="1.8" fill="#fff" stroke="#444" stroke-width="0.85"/>
<circle cx="459.9" cy="255" r="1.8" fill="#fff" stroke="#444" stroke-width="0.85"/>
<circle cx="469.16" cy="244" r="1.8" fill="#fff" stroke="#444" stroke-width="0.85"/>
<circle cx="478.42" cy="237" r="1.8" fill="#fff" stroke="#444" stroke-width="0.85"/>
<circle cx="487.68" cy="234" r="1.8" fill="#fff" stroke="#444" stroke-width="0.85"/>
<circle cx="496.94" cy="233.4" r="1.8" fill="#fff" stroke="#444" stroke-width="0.85"/>
<circle cx="506.2" cy="233" r="1.8" fill="#fff" stroke="#444" stroke-width="0.85"/>
<circle cx="515.46" cy="232.6" r="1.8" fill="#fff" stroke="#444" stroke-width="0.85"/>
<path d="M313 317 C314.33 314.77 318.12 308.2 321 303.6 C323.88 299 327.17 293.17 330.26 289.4 C333.35 285.63 336.43 282.73 339.52 281 C342.61 279.27 345.69 279.1 348.78 279 C351.87 278.9 354.95 279.57 358.04 280.4 C361.13 281.23 364.21 282.33 367.3 284 C370.39 285.67 373.47 288.33 376.56 290.4 C379.65 292.47 382.73 294.63 385.82 296.4 C388.91 298.17 391.99 299.9 395.08 301 C398.17 302.1 401.25 302.7 404.34 303 C407.43 303.3 410.51 303.13 413.6 302.8 C416.69 302.47 419.77 301.63 422.86 301 C425.95 300.37 429.03 299.6 432.12 299 C435.21 298.4 438.29 297.57 441.38 297.4 C444.47 297.23 447.55 297.47 450.64 298 C453.73 298.53 456.81 299.6 459.9 300.6 C462.99 301.6 466.07 302.77 469.16 304 C472.25 305.23 475.33 306.57 478.42 308 C481.51 309.43 484.59 311.17 487.68 312.6 C490.77 314.03 493.85 315.43 496.94 316.6 C500.03 317.77 503.11 318.87 506.2 319.6 C509.29 320.33 513.92 320.77 515.46 321" fill="none" stroke="#303030" stroke-width="1"/>
<rect x="319.05" y="301.65" width="3.9" height="3.9" fill="#303030" stroke="#303030" stroke-width="0.3"/>
<rect x="328.31" y="287.45" width="3.9" height="3.9" fill="#303030" stroke="#303030" stroke-width="0.3"/>
<rect x="337.57" y="279.05" width="3.9" height="3.9" fill="#303030" stroke="#303030" stroke-width="0.3"/>
<rect x="346.83" y="277.05" width="3.9" height="3.9" fill="#303030" stroke="#303030" stroke-width="0.3"/>
<rect x="356.09" y="278.45" width="3.9" height="3.9" fill="#303030" stroke="#303030" stroke-width="0.3"/>
<rect x="365.35" y="282.05" width="3.9" height="3.9" fill="#303030" stroke="#303030" stroke-width="0.3"/>
<rect x="374.61" y="288.45" width="3.9" height="3.9" fill="#303030" stroke="#303030" stroke-width="0.3"/>
<rect x="383.87" y="294.45" width="3.9" height="3.9" fill="#303030" stroke="#303030" stroke-width="0.3"/>
<rect x="393.13" y="299.05" width="3.9" height="3.9" fill="#303030" stroke="#303030" stroke-width="0.3"/>
<rect x="402.39" y="301.05" width="3.9" height="3.9" fill="#303030" stroke="#303030" stroke-width="0.3"/>
<rect x="411.65" y="300.85" width="3.9" height="3.9" fill="#303030" stroke="#303030" stroke-width="0.3"/>
<rect x="420.91" y="299.05" width="3.9" height="3.9" fill="#303030" stroke="#303030" stroke-width="0.3"/>
<rect x="430.17" y="297.05" width="3.9" height="3.9" fill="#303030" stroke="#303030" stroke-width="0.3"/>
<rect x="439.43" y="295.45" width="3.9" height="3.9" fill="#303030" stroke="#303030" stroke-width="0.3"/>
<rect x="448.69" y="296.05" width="3.9" height="3.9" fill="#303030" stroke="#303030" stroke-width="0.3"/>
<rect x="457.95" y="298.65" width="3.9" height="3.9" fill="#303030" stroke="#303030" stroke-width="0.3"/>
<rect x="467.21" y="302.05" width="3.9" height="3.9" fill="#303030" stroke="#303030" stroke-width="0.3"/>
<rect x="476.47" y="306.05" width="3.9" height="3.9" fill="#303030" stroke="#303030" stroke-width="0.3"/>
<rect x="485.73" y="310.65" width="3.9" height="3.9" fill="#303030" stroke="#303030" stroke-width="0.3"/>
<rect x="494.99" y="314.65" width="3.9" height="3.9" fill="#303030" stroke="#303030" stroke-width="0.3"/>
<rect x="504.25" y="317.65" width="3.9" height="3.9" fill="#303030" stroke="#303030" stroke-width="0.3"/>
<rect x="513.51" y="319.05" width="3.9" height="3.9" fill="#303030" stroke="#303030" stroke-width="0.3"/>
<path d="M313 287.5 C314.33 286.35 318.12 283.68 321 280.6 C323.88 277.52 327.17 273.27 330.26 269 C333.35 264.73 336.43 259.57 339.52 255 C342.61 250.43 345.69 245.43 348.78 241.6 C351.87 237.77 354.95 234.6 358.04 232 C361.13 229.4 364.21 227.1 367.3 226 C370.39 224.9 373.47 225.23 376.56 225.4 C379.65 225.57 382.73 226.5 385.82 227 C388.91 227.5 391.99 228.07 395.08 228.4 C398.17 228.73 401.25 228.9 404.34 229 C407.43 229.1 410.51 229.1 413.6 229 C416.69 228.9 419.77 228.63 422.86 228.4 C425.95 228.17 429.03 227.73 432.12 227.6 C435.21 227.47 438.29 227.27 441.38 227.6 C444.47 227.93 447.55 228.6 450.64 229.6 C453.73 230.6 456.81 231.97 459.9 233.6 C462.99 235.23 466.07 237.43 469.16 239.4 C472.25 241.37 475.33 243.3 478.42 245.4 C481.51 247.5 484.59 249.9 487.68 252 C490.77 254.1 493.85 256.27 496.94 258 C500.03 259.73 503.11 261.07 506.2 262.4 C509.29 263.73 513.92 265.4 515.46 266" fill="none" stroke="#7f7f7f" stroke-width="1"/>
<circle cx="321" cy="280.6" r="2.3" fill="#7f7f7f" stroke="#7f7f7f" stroke-width="0.3"/>
<circle cx="330.26" cy="269" r="2.3" fill="#7f7f7f" stroke="#7f7f7f" stroke-width="0.3"/>
<circle cx="339.52" cy="255" r="2.3" fill="#7f7f7f" stroke="#7f7f7f" stroke-width="0.3"/>
<circle cx="348.78" cy="241.6" r="2.3" fill="#7f7f7f" stroke="#7f7f7f" stroke-width="0.3"/>
<circle cx="358.04" cy="232" r="2.3" fill="#7f7f7f" stroke="#7f7f7f" stroke-width="0.3"/>
<circle cx="367.3" cy="226" r="2.3" fill="#7f7f7f" stroke="#7f7f7f" stroke-width="0.3"/>
<circle cx="376.56" cy="225.4" r="2.3" fill="#7f7f7f" stroke="#7f7f7f" stroke-width="0.3"/>
<circle cx="385.82" cy="227" r="2.3" fill="#7f7f7f" stroke="#7f7f7f" stroke-width="0.3"/>
<circle cx="395.08" cy="228.4" r="2.3" fill="#7f7f7f" stroke="#7f7f7f" stroke-width="0.3"/>
<circle cx="404.34" cy="229" r="2.3" fill="#7f7f7f" stroke="#7f7f7f" stroke-width="0.3"/>
<circle cx="413.6" cy="229" r="2.3" fill="#7f7f7f" stroke="#7f7f7f" stroke-width="0.3"/>
<circle cx="422.86" cy="228.4" r="2.3" fill="#7f7f7f" stroke="#7f7f7f" stroke-width="0.3"/>
<circle cx="432.12" cy="227.6" r="2.3" fill="#7f7f7f" stroke="#7f7f7f" stroke-width="0.3"/>
<circle cx="441.38" cy="227.6" r="2.3" fill="#7f7f7f" stroke="#7f7f7f" stroke-width="0.3"/>
<circle cx="450.64" cy="229.6" r="2.3" fill="#7f7f7f" stroke="#7f7f7f" stroke-width="0.3"/>
<circle cx="459.9" cy="233.6" r="2.3" fill="#7f7f7f" stroke="#7f7f7f" stroke-width="0.3"/>
<circle cx="469.16" cy="239.4" r="2.3" fill="#7f7f7f" stroke="#7f7f7f" stroke-width="0.3"/>
<circle cx="478.42" cy="245.4" r="2.3" fill="#7f7f7f" stroke="#7f7f7f" stroke-width="0.3"/>
<circle cx="487.68" cy="252" r="2.3" fill="#7f7f7f" stroke="#7f7f7f" stroke-width="0.3"/>
<circle cx="496.94" cy="258" r="2.3" fill="#7f7f7f" stroke="#7f7f7f" stroke-width="0.3"/>
<circle cx="506.2" cy="262.4" r="2.3" fill="#7f7f7f" stroke="#7f7f7f" stroke-width="0.3"/>
<circle cx="515.46" cy="266" r="2.3" fill="#7f7f7f" stroke="#7f7f7f" stroke-width="0.3"/>
<path d="M313 285.2 C313.8 285.33 316.18 285.67 317.8 286 C319.42 286.33 321.07 286.73 322.7 287.2 C324.33 287.67 325.97 288.18 327.6 288.8 C329.23 289.42 330.85 290.08 332.5 290.9 C334.15 291.72 335.85 292.68 337.5 293.7 C339.15 294.72 340.77 295.77 342.4 297 C344.03 298.23 345.67 299.73 347.3 301.1 C348.93 302.47 350.57 303.7 352.2 305.2 C353.83 306.7 355.47 308.47 357.1 310.1 C358.73 311.73 360.37 313.28 362 315 C363.63 316.72 365.75 319.17 366.9 320.4 C368.05 321.63 367.55 321.1 368.9 322.4 C370.25 323.7 372.82 326.22 375 328.2 C377.18 330.18 379.83 332.4 382 334.3 C384.17 336.2 385.77 337.6 388 339.6 C390.23 341.6 392.4 344.03 395.4 346.3 C398.4 348.57 402.23 350.75 406 353.2 C409.77 355.65 414 358.42 418 361 C422 363.58 426.3 366.32 430 368.7 C433.7 371.08 438.5 374.2 440.2 375.3" fill="none" stroke="#c4303e" stroke-width="1.35" stroke-linejoin="round"/>
<path d="M440.2 375.3 L440.2 221.3" fill="none" stroke="#c4303e" stroke-width="1.35" stroke-linejoin="round"/>
<path d="M440.2 221.3 C441.53 222.32 446.07 225.75 448.2 227.4 C450.33 229.05 451.42 230 453 231.2 C454.58 232.4 456.13 233.5 457.7 234.6 C459.27 235.7 460.83 236.8 462.4 237.8 C463.97 238.8 465.53 239.67 467.1 240.6 C468.67 241.53 470.23 242.52 471.8 243.4 C473.37 244.28 474.15 244.87 476.5 245.9 C478.85 246.93 482.77 248.45 485.9 249.6 C489.03 250.75 492.17 251.85 495.3 252.8 C498.43 253.75 501.12 254.5 504.7 255.3 C508.28 256.1 514.78 257.22 516.8 257.6" fill="none" stroke="#c4303e" stroke-width="1.35" stroke-linejoin="round"/>
</g>
<ellipse cx="342.4" cy="254" rx="2.8" ry="8.8" fill="none" stroke="#111" stroke-width="0.95" transform="rotate(0 342.4 254)"/><line x1="341.6" y1="247" x2="333.9" y2="247" stroke="#111" stroke-width="0.9"/><path d="M331.4 247 L336.3 245 L336.3 249 Z" fill="#111"/>
<ellipse cx="356" cy="280" rx="2.9" ry="8.5" fill="none" stroke="#111" stroke-width="0.95" transform="rotate(0 356 280)"/><line x1="355.2" y1="273" x2="347.2" y2="273" stroke="#111" stroke-width="0.9"/><path d="M344.7 273 L349.6 271 L349.6 275 Z" fill="#111"/>
<ellipse cx="397.4" cy="263.8" rx="2.8" ry="10.4" fill="none" stroke="#111" stroke-width="0.95" transform="rotate(0 397.4 263.8)"/><line x1="396.2" y1="255.4" x2="387.5" y2="255.4" stroke="#111" stroke-width="0.9"/><path d="M385 255.4 L389.9 253.4 L389.9 257.4 Z" fill="#111"/>
<ellipse cx="400.5" cy="352.8" rx="3.1" ry="8.9" fill="none" stroke="#111" stroke-width="0.95" transform="rotate(0 400.5 352.8)"/><line x1="401.2" y1="360.2" x2="411.5" y2="360.2" stroke="#111" stroke-width="0.9"/><path d="M414 360.2 L409.1 358.2 L409.1 362.2 Z" fill="#111"/>
<rect x="314.6" y="322.2" width="81.2" height="49.4" fill="#fff" stroke="#cfcfcf" stroke-width="0.8"/>
<line x1="315.8" y1="327.8" x2="340.1" y2="327.8" stroke="#303030" stroke-width="1.2" stroke-dasharray="2.8 1.9"/>
<rect x="325.95" y="326.15" width="3.3" height="3.3" fill="#fff" stroke="#303030" stroke-width="1.1"/>
<line x1="315.8" y1="337.05" x2="340.1" y2="337.05" stroke="#303030" stroke-width="1.2"/>
<rect x="325.65" y="335.1" width="3.9" height="3.9" fill="#303030" stroke="#303030" stroke-width="0.4"/>
<line x1="315.8" y1="346.3" x2="340.1" y2="346.3" stroke="#555" stroke-width="1" stroke-dasharray="1.3 2.1"/>
<circle cx="327.6" cy="346.3" r="1.9" fill="#fff" stroke="#444" stroke-width="0.9"/>
<line x1="315.8" y1="355.55" x2="340.1" y2="355.55" stroke="#7f7f7f" stroke-width="1.1"/>
<circle cx="327.6" cy="355.55" r="2.3" fill="#7f7f7f" stroke="#7f7f7f" stroke-width="0.3"/>
<line x1="315.8" y1="364.8" x2="340.1" y2="364.8" stroke="#c4303e" stroke-width="1.5"/>
<text transform="translate(341.8 330.5) scale(0.9 1)" text-anchor="start" class="lg">S11(Co Pol.)</text>
<text transform="translate(341.8 339.75) scale(0.9 1)" text-anchor="start" class="lg">S21(Co Pol.)</text>
<text transform="translate(341.8 349) scale(0.9 1)" text-anchor="start" class="lg">S22(Cross Pol.)</text>
<text transform="translate(341.8 358.25) scale(0.9 1)" text-anchor="start" class="lg">S21(Cross Pol.)</text>
<text transform="translate(341.8 367.5) scale(0.9 1)" text-anchor="start" class="lg">Phase(Cross Pol.)</text>
<path d="M313 375.3v-2.2M313 221.3v2.2M322.26 375.3v-1.2M322.26 221.3v1.2M331.53 375.3v-2.2M331.53 221.3v2.2M340.79 375.3v-1.2M340.79 221.3v1.2M350.05 375.3v-2.2M350.05 221.3v2.2M359.32 375.3v-1.2M359.32 221.3v1.2M368.58 375.3v-2.2M368.58 221.3v2.2M377.85 375.3v-1.2M377.85 221.3v1.2M387.11 375.3v-2.2M387.11 221.3v2.2M396.37 375.3v-1.2M396.37 221.3v1.2M405.64 375.3v-2.2M405.64 221.3v2.2M414.9 375.3v-1.2M414.9 221.3v1.2M424.16 375.3v-2.2M424.16 221.3v2.2M433.43 375.3v-1.2M433.43 221.3v1.2M442.69 375.3v-2.2M442.69 221.3v2.2M451.95 375.3v-1.2M451.95 221.3v1.2M461.22 375.3v-2.2M461.22 221.3v2.2M470.48 375.3v-1.2M470.48 221.3v1.2M479.75 375.3v-2.2M479.75 221.3v2.2M489.01 375.3v-1.2M489.01 221.3v1.2M498.27 375.3v-2.2M498.27 221.3v2.2M507.54 375.3v-1.2M507.54 221.3v1.2M516.8 375.3v-2.2M516.8 221.3v2.2M313 221.3h2.2M516.8 221.3h-2.2M313 234.13h1.2M516.8 234.13h-1.2M313 246.97h2.2M516.8 246.97h-2.2M313 259.8h1.2M516.8 259.8h-1.2M313 272.63h2.2M516.8 272.63h-2.2M313 285.47h1.2M516.8 285.47h-1.2M313 298.3h2.2M516.8 298.3h-2.2M313 311.13h1.2M516.8 311.13h-1.2M313 323.97h2.2M516.8 323.97h-2.2M313 336.8h1.2M516.8 336.8h-1.2M313 349.63h2.2M516.8 349.63h-2.2M313 362.47h1.2M516.8 362.47h-1.2M313 375.3h2.2M516.8 375.3h-2.2" stroke="#666666" stroke-width="0.8" fill="none"/>
<rect x="313" y="221.3" width="203.8" height="154" fill="none" stroke="#666666" stroke-width="1.1"/>
<text x="313" y="385.4" text-anchor="middle" class="tk">8.2</text>
<text x="331.53" y="385.4" text-anchor="middle" class="tk">8.4</text>
<text x="350.05" y="385.4" text-anchor="middle" class="tk">8.6</text>
<text x="368.58" y="385.4" text-anchor="middle" class="tk">8.8</text>
<text x="387.11" y="385.4" text-anchor="middle" class="tk">9.0</text>
<text x="405.64" y="385.4" text-anchor="middle" class="tk">9.2</text>
<text x="424.16" y="385.4" text-anchor="middle" class="tk">9.4</text>
<text x="442.69" y="385.4" text-anchor="middle" class="tk">9.6</text>
<text x="461.22" y="385.4" text-anchor="middle" class="tk">9.8</text>
<text x="479.75" y="385.4" text-anchor="middle" class="tk">10.0</text>
<text x="498.27" y="385.4" text-anchor="middle" class="tk">10.2</text>
<text x="516.8" y="385.4" text-anchor="middle" class="tk">10.4</text>
<text x="309.9" y="223.5" text-anchor="end" class="tk">0</text>
<text x="309.9" y="249.17" text-anchor="end" class="tk">−5</text>
<text x="309.9" y="274.83" text-anchor="end" class="tk">−10</text>
<text x="309.9" y="300.5" text-anchor="end" class="tk">−15</text>
<text x="309.9" y="326.17" text-anchor="end" class="tk">−20</text>
<text x="309.9" y="351.83" text-anchor="end" class="tk">−25</text>
<text x="309.9" y="377.5" text-anchor="end" class="tk">−30</text>
<text x="519.6" y="223.6" text-anchor="start" class="tk">180</text>
<text x="519.6" y="249.27" text-anchor="start" class="tk">120</text>
<text x="519.6" y="274.93" text-anchor="start" class="tk">60</text>
<text x="519.6" y="300.6" text-anchor="start" class="tk">0</text>
<text x="519.6" y="326.27" text-anchor="start" class="tk">−60</text>
<text x="519.6" y="351.93" text-anchor="start" class="tk">−120</text>
<text x="519.6" y="377.6" text-anchor="start" class="tk">−180</text>
<text transform="translate(414.9 395.6) scale(0.9 1)" text-anchor="middle" class="ax">Frequency (GHz)</text>
<text transform="translate(294.2 297.8) rotate(-90) scale(1 0.9)" text-anchor="middle" class="ax">Magnitude (dB)</text>
<text transform="translate(537.1 283.1) rotate(90) scale(1 0.9)" class="ang">∠</text>
<text transform="translate(538.5 289.6) rotate(90) scale(1 0.9)" class="ax">S<tspan class="sub" dy="0.2">21</tspan><tspan dy="-0.2"> (deg)</tspan></text>
<text x="417.3" y="420.1" text-anchor="middle" class="cap">(d)</text>
</g>
</svg>
</body></html>
